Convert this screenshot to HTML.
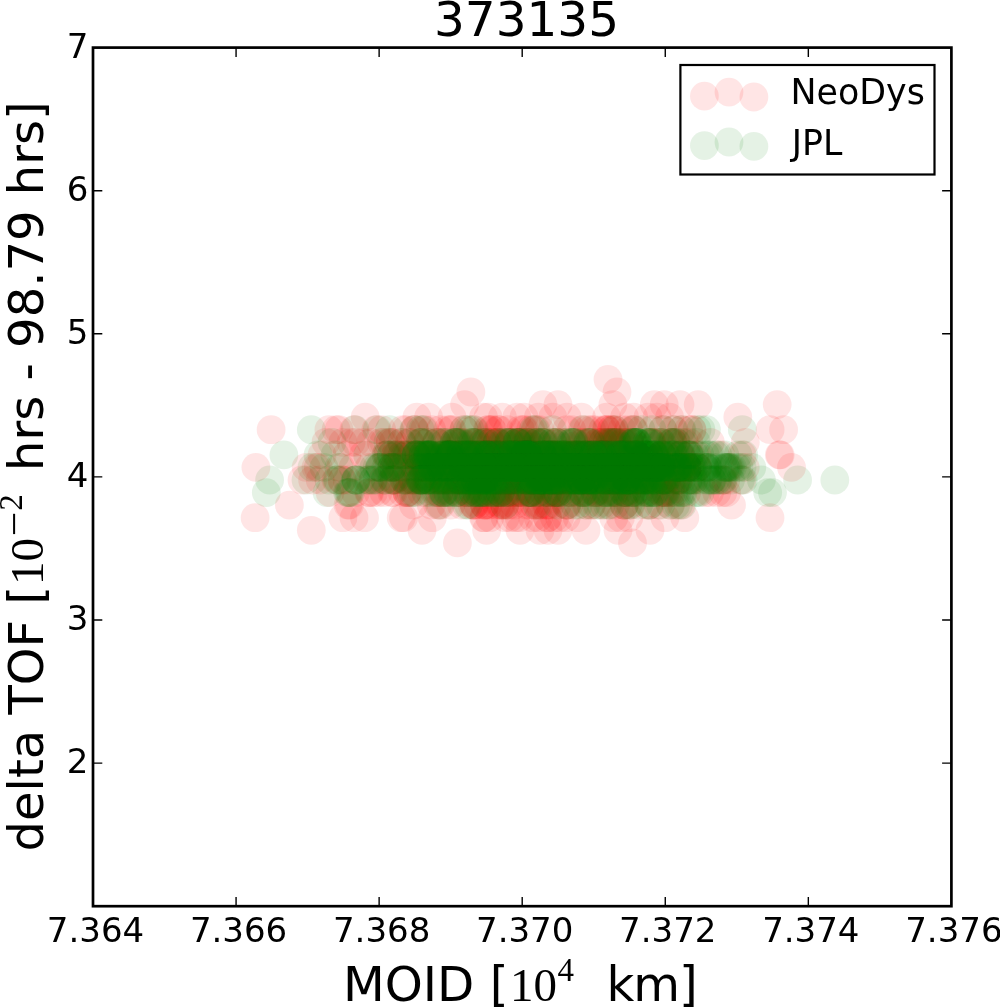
<!DOCTYPE html>
<html lang="en">
<head>
<meta charset="utf-8">
<title>373135</title>
<style>
html,body{margin:0;padding:0;background:#fff;}
body{width:1000px;height:1007px;overflow:hidden;}
svg{display:block;}
text{font-family:'DejaVu Sans','Liberation Sans',sans-serif;fill:#000;}
.m{font-family:'Liberation Serif','DejaVu Serif',serif;}
</style>
</head>
<body>
<svg width="1000" height="1007" viewBox="0 0 1000 1007">
<rect x="0" y="0" width="1000" height="1007" fill="#ffffff"/>
<defs><clipPath id="ax"><rect x="93.0" y="47.6" width="858.4" height="858.6"/></clipPath></defs>
<g clip-path="url(#ax)">
<g fill="#ff0000" fill-opacity="0.1">
<circle cx="414.4" cy="429.7" r="14.4"/>
<circle cx="674.0" cy="429.7" r="14.4"/>
<circle cx="662.6" cy="429.7" r="14.4"/>
<circle cx="607.1" cy="429.7" r="14.4"/>
<circle cx="591.5" cy="429.7" r="14.4"/>
<circle cx="613.9" cy="429.7" r="14.4"/>
<circle cx="499.3" cy="429.7" r="14.4"/>
<circle cx="622.0" cy="429.7" r="14.4"/>
<circle cx="507.5" cy="429.7" r="14.4"/>
<circle cx="414.7" cy="429.7" r="14.4"/>
<circle cx="611.2" cy="429.7" r="14.4"/>
<circle cx="452.0" cy="429.7" r="14.4"/>
<circle cx="587.5" cy="429.7" r="14.4"/>
<circle cx="594.7" cy="429.7" r="14.4"/>
<circle cx="336.1" cy="429.7" r="14.4"/>
<circle cx="523.1" cy="429.7" r="14.4"/>
<circle cx="530.7" cy="429.7" r="14.4"/>
<circle cx="524.5" cy="429.7" r="14.4"/>
<circle cx="536.1" cy="429.7" r="14.4"/>
<circle cx="406.1" cy="429.7" r="14.4"/>
<circle cx="539.6" cy="429.7" r="14.4"/>
<circle cx="473.1" cy="429.7" r="14.4"/>
<circle cx="488.5" cy="429.7" r="14.4"/>
<circle cx="606.0" cy="429.7" r="14.4"/>
<circle cx="431.7" cy="429.7" r="14.4"/>
<circle cx="451.0" cy="429.7" r="14.4"/>
<circle cx="447.9" cy="429.7" r="14.4"/>
<circle cx="688.6" cy="429.7" r="14.4"/>
<circle cx="632.9" cy="429.7" r="14.4"/>
<circle cx="498.0" cy="429.7" r="14.4"/>
<circle cx="628.6" cy="429.7" r="14.4"/>
<circle cx="440.3" cy="429.7" r="14.4"/>
<circle cx="582.1" cy="429.7" r="14.4"/>
<circle cx="520.4" cy="429.7" r="14.4"/>
<circle cx="375.9" cy="429.7" r="14.4"/>
<circle cx="424.5" cy="429.7" r="14.4"/>
<circle cx="381.7" cy="429.7" r="14.4"/>
<circle cx="487.4" cy="429.7" r="14.4"/>
<circle cx="463.9" cy="429.7" r="14.4"/>
<circle cx="691.8" cy="429.7" r="14.4"/>
<circle cx="692.1" cy="429.7" r="14.4"/>
<circle cx="681.1" cy="429.7" r="14.4"/>
<circle cx="402.5" cy="429.7" r="14.4"/>
<circle cx="566.6" cy="429.7" r="14.4"/>
<circle cx="571.6" cy="429.7" r="14.4"/>
<circle cx="602.7" cy="429.7" r="14.4"/>
<circle cx="491.5" cy="429.7" r="14.4"/>
<circle cx="492.0" cy="429.7" r="14.4"/>
<circle cx="606.7" cy="429.7" r="14.4"/>
<circle cx="634.2" cy="429.7" r="14.4"/>
<circle cx="353.9" cy="429.7" r="14.4"/>
<circle cx="611.9" cy="429.7" r="14.4"/>
<circle cx="669.3" cy="442.3" r="14.4"/>
<circle cx="483.3" cy="442.3" r="14.4"/>
<circle cx="381.3" cy="442.3" r="14.4"/>
<circle cx="402.1" cy="442.3" r="14.4"/>
<circle cx="623.7" cy="442.3" r="14.4"/>
<circle cx="629.2" cy="442.3" r="14.4"/>
<circle cx="583.8" cy="442.3" r="14.4"/>
<circle cx="614.0" cy="442.3" r="14.4"/>
<circle cx="603.0" cy="442.3" r="14.4"/>
<circle cx="625.8" cy="442.3" r="14.4"/>
<circle cx="517.6" cy="442.3" r="14.4"/>
<circle cx="651.2" cy="442.3" r="14.4"/>
<circle cx="561.0" cy="442.3" r="14.4"/>
<circle cx="598.0" cy="442.3" r="14.4"/>
<circle cx="390.4" cy="442.3" r="14.4"/>
<circle cx="383.9" cy="442.3" r="14.4"/>
<circle cx="440.5" cy="442.3" r="14.4"/>
<circle cx="523.8" cy="442.3" r="14.4"/>
<circle cx="533.0" cy="442.3" r="14.4"/>
<circle cx="497.6" cy="442.3" r="14.4"/>
<circle cx="553.1" cy="442.3" r="14.4"/>
<circle cx="745.3" cy="442.3" r="14.4"/>
<circle cx="616.7" cy="442.3" r="14.4"/>
<circle cx="513.9" cy="442.3" r="14.4"/>
<circle cx="390.4" cy="442.3" r="14.4"/>
<circle cx="629.7" cy="442.3" r="14.4"/>
<circle cx="483.8" cy="442.3" r="14.4"/>
<circle cx="607.6" cy="442.3" r="14.4"/>
<circle cx="581.9" cy="442.3" r="14.4"/>
<circle cx="575.5" cy="442.3" r="14.4"/>
<circle cx="477.6" cy="442.3" r="14.4"/>
<circle cx="436.4" cy="442.3" r="14.4"/>
<circle cx="491.0" cy="442.3" r="14.4"/>
<circle cx="527.2" cy="442.3" r="14.4"/>
<circle cx="508.8" cy="442.3" r="14.4"/>
<circle cx="656.4" cy="442.3" r="14.4"/>
<circle cx="459.1" cy="442.3" r="14.4"/>
<circle cx="606.6" cy="442.3" r="14.4"/>
<circle cx="516.6" cy="442.3" r="14.4"/>
<circle cx="633.4" cy="442.3" r="14.4"/>
<circle cx="520.6" cy="442.3" r="14.4"/>
<circle cx="651.3" cy="442.3" r="14.4"/>
<circle cx="592.1" cy="442.3" r="14.4"/>
<circle cx="493.8" cy="442.3" r="14.4"/>
<circle cx="497.1" cy="442.3" r="14.4"/>
<circle cx="520.4" cy="442.3" r="14.4"/>
<circle cx="355.5" cy="442.3" r="14.4"/>
<circle cx="508.1" cy="442.3" r="14.4"/>
<circle cx="351.1" cy="442.3" r="14.4"/>
<circle cx="609.8" cy="442.3" r="14.4"/>
<circle cx="536.2" cy="442.3" r="14.4"/>
<circle cx="623.5" cy="442.3" r="14.4"/>
<circle cx="542.9" cy="442.3" r="14.4"/>
<circle cx="612.5" cy="442.3" r="14.4"/>
<circle cx="490.7" cy="442.3" r="14.4"/>
<circle cx="675.6" cy="442.3" r="14.4"/>
<circle cx="611.7" cy="442.3" r="14.4"/>
<circle cx="363.1" cy="442.3" r="14.4"/>
<circle cx="659.2" cy="442.3" r="14.4"/>
<circle cx="601.0" cy="442.3" r="14.4"/>
<circle cx="421.7" cy="442.3" r="14.4"/>
<circle cx="542.6" cy="442.3" r="14.4"/>
<circle cx="597.8" cy="442.3" r="14.4"/>
<circle cx="565.6" cy="442.3" r="14.4"/>
<circle cx="545.9" cy="442.3" r="14.4"/>
<circle cx="616.9" cy="442.3" r="14.4"/>
<circle cx="579.8" cy="442.3" r="14.4"/>
<circle cx="672.5" cy="442.3" r="14.4"/>
<circle cx="556.1" cy="442.3" r="14.4"/>
<circle cx="490.6" cy="442.3" r="14.4"/>
<circle cx="475.9" cy="442.3" r="14.4"/>
<circle cx="461.8" cy="442.3" r="14.4"/>
<circle cx="672.9" cy="442.3" r="14.4"/>
<circle cx="618.9" cy="442.3" r="14.4"/>
<circle cx="499.0" cy="442.3" r="14.4"/>
<circle cx="437.2" cy="442.3" r="14.4"/>
<circle cx="393.3" cy="442.3" r="14.4"/>
<circle cx="456.0" cy="442.3" r="14.4"/>
<circle cx="662.1" cy="442.3" r="14.4"/>
<circle cx="469.1" cy="442.3" r="14.4"/>
<circle cx="511.0" cy="442.3" r="14.4"/>
<circle cx="536.5" cy="442.3" r="14.4"/>
<circle cx="710.3" cy="442.3" r="14.4"/>
<circle cx="651.7" cy="442.3" r="14.4"/>
<circle cx="474.1" cy="442.3" r="14.4"/>
<circle cx="557.3" cy="442.3" r="14.4"/>
<circle cx="427.3" cy="442.3" r="14.4"/>
<circle cx="409.8" cy="442.3" r="14.4"/>
<circle cx="688.9" cy="442.3" r="14.4"/>
<circle cx="409.2" cy="442.3" r="14.4"/>
<circle cx="462.9" cy="442.3" r="14.4"/>
<circle cx="684.3" cy="442.3" r="14.4"/>
<circle cx="526.5" cy="442.3" r="14.4"/>
<circle cx="370.9" cy="442.3" r="14.4"/>
<circle cx="525.7" cy="442.3" r="14.4"/>
<circle cx="587.9" cy="442.3" r="14.4"/>
<circle cx="449.3" cy="442.3" r="14.4"/>
<circle cx="418.2" cy="454.9" r="14.4"/>
<circle cx="598.9" cy="454.9" r="14.4"/>
<circle cx="584.8" cy="454.9" r="14.4"/>
<circle cx="635.3" cy="454.9" r="14.4"/>
<circle cx="504.4" cy="454.9" r="14.4"/>
<circle cx="497.6" cy="454.9" r="14.4"/>
<circle cx="621.5" cy="454.9" r="14.4"/>
<circle cx="607.8" cy="454.9" r="14.4"/>
<circle cx="407.0" cy="454.9" r="14.4"/>
<circle cx="455.6" cy="454.9" r="14.4"/>
<circle cx="463.4" cy="454.9" r="14.4"/>
<circle cx="481.1" cy="454.9" r="14.4"/>
<circle cx="472.8" cy="454.9" r="14.4"/>
<circle cx="601.8" cy="454.9" r="14.4"/>
<circle cx="556.0" cy="454.9" r="14.4"/>
<circle cx="527.3" cy="454.9" r="14.4"/>
<circle cx="601.2" cy="454.9" r="14.4"/>
<circle cx="624.1" cy="454.9" r="14.4"/>
<circle cx="720.9" cy="454.9" r="14.4"/>
<circle cx="463.5" cy="454.9" r="14.4"/>
<circle cx="697.1" cy="454.9" r="14.4"/>
<circle cx="527.8" cy="454.9" r="14.4"/>
<circle cx="551.8" cy="454.9" r="14.4"/>
<circle cx="494.4" cy="454.9" r="14.4"/>
<circle cx="494.5" cy="454.9" r="14.4"/>
<circle cx="636.8" cy="454.9" r="14.4"/>
<circle cx="528.2" cy="454.9" r="14.4"/>
<circle cx="552.3" cy="454.9" r="14.4"/>
<circle cx="475.9" cy="454.9" r="14.4"/>
<circle cx="593.4" cy="454.9" r="14.4"/>
<circle cx="600.0" cy="454.9" r="14.4"/>
<circle cx="629.7" cy="454.9" r="14.4"/>
<circle cx="515.1" cy="454.9" r="14.4"/>
<circle cx="534.1" cy="454.9" r="14.4"/>
<circle cx="529.1" cy="454.9" r="14.4"/>
<circle cx="484.3" cy="454.9" r="14.4"/>
<circle cx="474.0" cy="454.9" r="14.4"/>
<circle cx="386.4" cy="454.9" r="14.4"/>
<circle cx="575.3" cy="454.9" r="14.4"/>
<circle cx="625.0" cy="454.9" r="14.4"/>
<circle cx="500.6" cy="454.9" r="14.4"/>
<circle cx="467.0" cy="454.9" r="14.4"/>
<circle cx="395.8" cy="454.9" r="14.4"/>
<circle cx="587.1" cy="454.9" r="14.4"/>
<circle cx="679.9" cy="454.9" r="14.4"/>
<circle cx="419.5" cy="454.9" r="14.4"/>
<circle cx="559.5" cy="454.9" r="14.4"/>
<circle cx="690.6" cy="454.9" r="14.4"/>
<circle cx="471.2" cy="454.9" r="14.4"/>
<circle cx="499.1" cy="454.9" r="14.4"/>
<circle cx="498.9" cy="454.9" r="14.4"/>
<circle cx="470.4" cy="454.9" r="14.4"/>
<circle cx="550.0" cy="454.9" r="14.4"/>
<circle cx="579.6" cy="454.9" r="14.4"/>
<circle cx="487.2" cy="454.9" r="14.4"/>
<circle cx="546.4" cy="454.9" r="14.4"/>
<circle cx="586.5" cy="454.9" r="14.4"/>
<circle cx="569.3" cy="454.9" r="14.4"/>
<circle cx="574.6" cy="454.9" r="14.4"/>
<circle cx="631.6" cy="454.9" r="14.4"/>
<circle cx="610.3" cy="454.9" r="14.4"/>
<circle cx="577.8" cy="454.9" r="14.4"/>
<circle cx="492.5" cy="454.9" r="14.4"/>
<circle cx="497.9" cy="454.9" r="14.4"/>
<circle cx="531.7" cy="454.9" r="14.4"/>
<circle cx="404.5" cy="454.9" r="14.4"/>
<circle cx="401.9" cy="454.9" r="14.4"/>
<circle cx="363.5" cy="454.9" r="14.4"/>
<circle cx="576.2" cy="454.9" r="14.4"/>
<circle cx="680.3" cy="454.9" r="14.4"/>
<circle cx="636.3" cy="454.9" r="14.4"/>
<circle cx="521.1" cy="454.9" r="14.4"/>
<circle cx="443.1" cy="454.9" r="14.4"/>
<circle cx="539.5" cy="454.9" r="14.4"/>
<circle cx="618.9" cy="454.9" r="14.4"/>
<circle cx="416.9" cy="454.9" r="14.4"/>
<circle cx="388.0" cy="454.9" r="14.4"/>
<circle cx="427.6" cy="454.9" r="14.4"/>
<circle cx="458.8" cy="454.9" r="14.4"/>
<circle cx="680.6" cy="454.9" r="14.4"/>
<circle cx="631.0" cy="454.9" r="14.4"/>
<circle cx="448.0" cy="454.9" r="14.4"/>
<circle cx="439.5" cy="454.9" r="14.4"/>
<circle cx="475.7" cy="454.9" r="14.4"/>
<circle cx="584.3" cy="454.9" r="14.4"/>
<circle cx="471.5" cy="454.9" r="14.4"/>
<circle cx="411.1" cy="454.9" r="14.4"/>
<circle cx="517.4" cy="454.9" r="14.4"/>
<circle cx="429.9" cy="454.9" r="14.4"/>
<circle cx="563.9" cy="454.9" r="14.4"/>
<circle cx="510.6" cy="454.9" r="14.4"/>
<circle cx="396.4" cy="454.9" r="14.4"/>
<circle cx="502.7" cy="454.9" r="14.4"/>
<circle cx="460.6" cy="454.9" r="14.4"/>
<circle cx="590.5" cy="454.9" r="14.4"/>
<circle cx="572.5" cy="454.9" r="14.4"/>
<circle cx="620.5" cy="454.9" r="14.4"/>
<circle cx="508.5" cy="454.9" r="14.4"/>
<circle cx="451.1" cy="454.9" r="14.4"/>
<circle cx="666.3" cy="454.9" r="14.4"/>
<circle cx="579.0" cy="454.9" r="14.4"/>
<circle cx="605.1" cy="454.9" r="14.4"/>
<circle cx="523.6" cy="454.9" r="14.4"/>
<circle cx="602.5" cy="454.9" r="14.4"/>
<circle cx="527.9" cy="454.9" r="14.4"/>
<circle cx="452.3" cy="454.9" r="14.4"/>
<circle cx="601.0" cy="454.9" r="14.4"/>
<circle cx="457.1" cy="454.9" r="14.4"/>
<circle cx="491.7" cy="454.9" r="14.4"/>
<circle cx="575.0" cy="454.9" r="14.4"/>
<circle cx="563.7" cy="454.9" r="14.4"/>
<circle cx="661.4" cy="454.9" r="14.4"/>
<circle cx="742.0" cy="454.9" r="14.4"/>
<circle cx="582.3" cy="454.9" r="14.4"/>
<circle cx="448.2" cy="454.9" r="14.4"/>
<circle cx="571.4" cy="454.9" r="14.4"/>
<circle cx="600.0" cy="454.9" r="14.4"/>
<circle cx="620.0" cy="454.9" r="14.4"/>
<circle cx="536.7" cy="454.9" r="14.4"/>
<circle cx="411.9" cy="454.9" r="14.4"/>
<circle cx="346.8" cy="454.9" r="14.4"/>
<circle cx="546.6" cy="454.9" r="14.4"/>
<circle cx="551.8" cy="454.9" r="14.4"/>
<circle cx="547.9" cy="454.9" r="14.4"/>
<circle cx="534.9" cy="454.9" r="14.4"/>
<circle cx="414.3" cy="454.9" r="14.4"/>
<circle cx="467.3" cy="454.9" r="14.4"/>
<circle cx="604.4" cy="454.9" r="14.4"/>
<circle cx="515.6" cy="454.9" r="14.4"/>
<circle cx="493.8" cy="454.9" r="14.4"/>
<circle cx="490.7" cy="454.9" r="14.4"/>
<circle cx="457.3" cy="454.9" r="14.4"/>
<circle cx="422.4" cy="454.9" r="14.4"/>
<circle cx="556.4" cy="454.9" r="14.4"/>
<circle cx="448.6" cy="454.9" r="14.4"/>
<circle cx="395.6" cy="454.9" r="14.4"/>
<circle cx="446.5" cy="454.9" r="14.4"/>
<circle cx="483.9" cy="454.9" r="14.4"/>
<circle cx="557.0" cy="454.9" r="14.4"/>
<circle cx="531.5" cy="454.9" r="14.4"/>
<circle cx="457.1" cy="467.4" r="14.4"/>
<circle cx="612.4" cy="467.4" r="14.4"/>
<circle cx="508.8" cy="467.4" r="14.4"/>
<circle cx="596.0" cy="467.4" r="14.4"/>
<circle cx="572.0" cy="467.4" r="14.4"/>
<circle cx="549.9" cy="467.4" r="14.4"/>
<circle cx="687.7" cy="467.4" r="14.4"/>
<circle cx="574.3" cy="467.4" r="14.4"/>
<circle cx="523.7" cy="467.4" r="14.4"/>
<circle cx="457.0" cy="467.4" r="14.4"/>
<circle cx="491.7" cy="467.4" r="14.4"/>
<circle cx="369.2" cy="467.4" r="14.4"/>
<circle cx="458.5" cy="467.4" r="14.4"/>
<circle cx="669.2" cy="467.4" r="14.4"/>
<circle cx="594.3" cy="467.4" r="14.4"/>
<circle cx="419.1" cy="467.4" r="14.4"/>
<circle cx="473.8" cy="467.4" r="14.4"/>
<circle cx="557.1" cy="467.4" r="14.4"/>
<circle cx="542.3" cy="467.4" r="14.4"/>
<circle cx="491.4" cy="467.4" r="14.4"/>
<circle cx="544.6" cy="467.4" r="14.4"/>
<circle cx="601.1" cy="467.4" r="14.4"/>
<circle cx="458.8" cy="467.4" r="14.4"/>
<circle cx="561.6" cy="467.4" r="14.4"/>
<circle cx="629.3" cy="467.4" r="14.4"/>
<circle cx="650.2" cy="467.4" r="14.4"/>
<circle cx="598.0" cy="467.4" r="14.4"/>
<circle cx="502.5" cy="467.4" r="14.4"/>
<circle cx="526.3" cy="467.4" r="14.4"/>
<circle cx="464.0" cy="467.4" r="14.4"/>
<circle cx="570.3" cy="467.4" r="14.4"/>
<circle cx="570.6" cy="467.4" r="14.4"/>
<circle cx="494.1" cy="467.4" r="14.4"/>
<circle cx="468.7" cy="467.4" r="14.4"/>
<circle cx="457.6" cy="467.4" r="14.4"/>
<circle cx="587.0" cy="467.4" r="14.4"/>
<circle cx="668.6" cy="467.4" r="14.4"/>
<circle cx="489.7" cy="467.4" r="14.4"/>
<circle cx="690.1" cy="467.4" r="14.4"/>
<circle cx="491.1" cy="467.4" r="14.4"/>
<circle cx="524.7" cy="467.4" r="14.4"/>
<circle cx="583.3" cy="467.4" r="14.4"/>
<circle cx="488.0" cy="467.4" r="14.4"/>
<circle cx="563.1" cy="467.4" r="14.4"/>
<circle cx="449.8" cy="467.4" r="14.4"/>
<circle cx="552.9" cy="467.4" r="14.4"/>
<circle cx="654.4" cy="467.4" r="14.4"/>
<circle cx="568.8" cy="467.4" r="14.4"/>
<circle cx="680.5" cy="467.4" r="14.4"/>
<circle cx="525.7" cy="467.4" r="14.4"/>
<circle cx="577.8" cy="467.4" r="14.4"/>
<circle cx="458.5" cy="467.4" r="14.4"/>
<circle cx="482.4" cy="467.4" r="14.4"/>
<circle cx="415.1" cy="467.4" r="14.4"/>
<circle cx="521.2" cy="467.4" r="14.4"/>
<circle cx="426.3" cy="467.4" r="14.4"/>
<circle cx="659.5" cy="467.4" r="14.4"/>
<circle cx="503.2" cy="467.4" r="14.4"/>
<circle cx="469.8" cy="467.4" r="14.4"/>
<circle cx="578.3" cy="467.4" r="14.4"/>
<circle cx="490.0" cy="467.4" r="14.4"/>
<circle cx="697.0" cy="467.4" r="14.4"/>
<circle cx="399.9" cy="467.4" r="14.4"/>
<circle cx="552.2" cy="467.4" r="14.4"/>
<circle cx="681.7" cy="467.4" r="14.4"/>
<circle cx="553.2" cy="467.4" r="14.4"/>
<circle cx="551.7" cy="467.4" r="14.4"/>
<circle cx="483.1" cy="467.4" r="14.4"/>
<circle cx="530.6" cy="467.4" r="14.4"/>
<circle cx="657.8" cy="467.4" r="14.4"/>
<circle cx="745.2" cy="467.4" r="14.4"/>
<circle cx="424.4" cy="467.4" r="14.4"/>
<circle cx="499.5" cy="467.4" r="14.4"/>
<circle cx="466.9" cy="467.4" r="14.4"/>
<circle cx="394.1" cy="467.4" r="14.4"/>
<circle cx="580.3" cy="467.4" r="14.4"/>
<circle cx="421.6" cy="467.4" r="14.4"/>
<circle cx="507.9" cy="467.4" r="14.4"/>
<circle cx="510.9" cy="467.4" r="14.4"/>
<circle cx="552.8" cy="467.4" r="14.4"/>
<circle cx="643.8" cy="467.4" r="14.4"/>
<circle cx="340.5" cy="467.4" r="14.4"/>
<circle cx="509.1" cy="467.4" r="14.4"/>
<circle cx="539.6" cy="467.4" r="14.4"/>
<circle cx="575.5" cy="467.4" r="14.4"/>
<circle cx="502.6" cy="467.4" r="14.4"/>
<circle cx="561.5" cy="467.4" r="14.4"/>
<circle cx="598.0" cy="467.4" r="14.4"/>
<circle cx="504.1" cy="467.4" r="14.4"/>
<circle cx="584.4" cy="467.4" r="14.4"/>
<circle cx="452.7" cy="467.4" r="14.4"/>
<circle cx="545.4" cy="467.4" r="14.4"/>
<circle cx="353.0" cy="467.4" r="14.4"/>
<circle cx="533.7" cy="467.4" r="14.4"/>
<circle cx="387.1" cy="467.4" r="14.4"/>
<circle cx="487.5" cy="467.4" r="14.4"/>
<circle cx="606.9" cy="467.4" r="14.4"/>
<circle cx="593.4" cy="467.4" r="14.4"/>
<circle cx="681.2" cy="467.4" r="14.4"/>
<circle cx="536.4" cy="467.4" r="14.4"/>
<circle cx="497.8" cy="467.4" r="14.4"/>
<circle cx="463.0" cy="467.4" r="14.4"/>
<circle cx="562.8" cy="467.4" r="14.4"/>
<circle cx="550.4" cy="467.4" r="14.4"/>
<circle cx="524.2" cy="467.4" r="14.4"/>
<circle cx="634.6" cy="467.4" r="14.4"/>
<circle cx="531.6" cy="467.4" r="14.4"/>
<circle cx="380.7" cy="467.4" r="14.4"/>
<circle cx="541.3" cy="467.4" r="14.4"/>
<circle cx="548.4" cy="467.4" r="14.4"/>
<circle cx="318.3" cy="467.4" r="14.4"/>
<circle cx="488.7" cy="467.4" r="14.4"/>
<circle cx="434.8" cy="467.4" r="14.4"/>
<circle cx="457.2" cy="467.4" r="14.4"/>
<circle cx="541.1" cy="467.4" r="14.4"/>
<circle cx="499.9" cy="467.4" r="14.4"/>
<circle cx="548.9" cy="467.4" r="14.4"/>
<circle cx="563.7" cy="467.4" r="14.4"/>
<circle cx="466.5" cy="467.4" r="14.4"/>
<circle cx="600.1" cy="467.4" r="14.4"/>
<circle cx="499.0" cy="467.4" r="14.4"/>
<circle cx="525.3" cy="467.4" r="14.4"/>
<circle cx="655.3" cy="467.4" r="14.4"/>
<circle cx="656.3" cy="467.4" r="14.4"/>
<circle cx="498.1" cy="467.4" r="14.4"/>
<circle cx="449.1" cy="467.4" r="14.4"/>
<circle cx="683.7" cy="467.4" r="14.4"/>
<circle cx="553.6" cy="467.4" r="14.4"/>
<circle cx="492.6" cy="467.4" r="14.4"/>
<circle cx="470.2" cy="467.4" r="14.4"/>
<circle cx="645.6" cy="467.4" r="14.4"/>
<circle cx="600.0" cy="467.4" r="14.4"/>
<circle cx="559.1" cy="467.4" r="14.4"/>
<circle cx="392.3" cy="467.4" r="14.4"/>
<circle cx="422.5" cy="467.4" r="14.4"/>
<circle cx="697.8" cy="467.4" r="14.4"/>
<circle cx="525.3" cy="467.4" r="14.4"/>
<circle cx="646.0" cy="467.4" r="14.4"/>
<circle cx="454.7" cy="467.4" r="14.4"/>
<circle cx="495.0" cy="467.4" r="14.4"/>
<circle cx="518.0" cy="467.4" r="14.4"/>
<circle cx="583.0" cy="467.4" r="14.4"/>
<circle cx="606.9" cy="467.4" r="14.4"/>
<circle cx="396.1" cy="467.4" r="14.4"/>
<circle cx="728.3" cy="467.4" r="14.4"/>
<circle cx="486.4" cy="467.4" r="14.4"/>
<circle cx="306.1" cy="467.4" r="14.4"/>
<circle cx="645.9" cy="467.4" r="14.4"/>
<circle cx="431.8" cy="467.4" r="14.4"/>
<circle cx="524.9" cy="467.4" r="14.4"/>
<circle cx="698.1" cy="467.4" r="14.4"/>
<circle cx="416.7" cy="467.4" r="14.4"/>
<circle cx="575.3" cy="467.4" r="14.4"/>
<circle cx="610.7" cy="467.4" r="14.4"/>
<circle cx="640.4" cy="467.4" r="14.4"/>
<circle cx="558.9" cy="467.4" r="14.4"/>
<circle cx="617.7" cy="467.4" r="14.4"/>
<circle cx="558.0" cy="467.4" r="14.4"/>
<circle cx="588.0" cy="480.0" r="14.4"/>
<circle cx="580.3" cy="480.0" r="14.4"/>
<circle cx="496.5" cy="480.0" r="14.4"/>
<circle cx="427.6" cy="480.0" r="14.4"/>
<circle cx="473.4" cy="480.0" r="14.4"/>
<circle cx="410.5" cy="480.0" r="14.4"/>
<circle cx="507.8" cy="480.0" r="14.4"/>
<circle cx="636.4" cy="480.0" r="14.4"/>
<circle cx="409.0" cy="480.0" r="14.4"/>
<circle cx="499.3" cy="480.0" r="14.4"/>
<circle cx="461.2" cy="480.0" r="14.4"/>
<circle cx="536.2" cy="480.0" r="14.4"/>
<circle cx="540.7" cy="480.0" r="14.4"/>
<circle cx="320.2" cy="480.0" r="14.4"/>
<circle cx="342.4" cy="480.0" r="14.4"/>
<circle cx="511.5" cy="480.0" r="14.4"/>
<circle cx="542.8" cy="480.0" r="14.4"/>
<circle cx="582.7" cy="480.0" r="14.4"/>
<circle cx="444.4" cy="480.0" r="14.4"/>
<circle cx="629.9" cy="480.0" r="14.4"/>
<circle cx="559.2" cy="480.0" r="14.4"/>
<circle cx="678.1" cy="480.0" r="14.4"/>
<circle cx="464.4" cy="480.0" r="14.4"/>
<circle cx="496.3" cy="480.0" r="14.4"/>
<circle cx="741.9" cy="480.0" r="14.4"/>
<circle cx="583.4" cy="480.0" r="14.4"/>
<circle cx="500.8" cy="480.0" r="14.4"/>
<circle cx="602.3" cy="480.0" r="14.4"/>
<circle cx="486.3" cy="480.0" r="14.4"/>
<circle cx="526.5" cy="480.0" r="14.4"/>
<circle cx="554.7" cy="480.0" r="14.4"/>
<circle cx="662.1" cy="480.0" r="14.4"/>
<circle cx="535.3" cy="480.0" r="14.4"/>
<circle cx="392.6" cy="480.0" r="14.4"/>
<circle cx="449.5" cy="480.0" r="14.4"/>
<circle cx="441.5" cy="480.0" r="14.4"/>
<circle cx="426.3" cy="480.0" r="14.4"/>
<circle cx="394.0" cy="480.0" r="14.4"/>
<circle cx="554.7" cy="480.0" r="14.4"/>
<circle cx="562.7" cy="480.0" r="14.4"/>
<circle cx="678.8" cy="480.0" r="14.4"/>
<circle cx="676.0" cy="480.0" r="14.4"/>
<circle cx="497.8" cy="480.0" r="14.4"/>
<circle cx="531.7" cy="480.0" r="14.4"/>
<circle cx="442.6" cy="480.0" r="14.4"/>
<circle cx="555.9" cy="480.0" r="14.4"/>
<circle cx="498.3" cy="480.0" r="14.4"/>
<circle cx="422.5" cy="480.0" r="14.4"/>
<circle cx="341.8" cy="480.0" r="14.4"/>
<circle cx="525.7" cy="480.0" r="14.4"/>
<circle cx="575.9" cy="480.0" r="14.4"/>
<circle cx="622.7" cy="480.0" r="14.4"/>
<circle cx="418.2" cy="480.0" r="14.4"/>
<circle cx="347.2" cy="480.0" r="14.4"/>
<circle cx="560.6" cy="480.0" r="14.4"/>
<circle cx="693.5" cy="480.0" r="14.4"/>
<circle cx="582.6" cy="480.0" r="14.4"/>
<circle cx="509.6" cy="480.0" r="14.4"/>
<circle cx="508.8" cy="480.0" r="14.4"/>
<circle cx="312.6" cy="480.0" r="14.4"/>
<circle cx="512.8" cy="480.0" r="14.4"/>
<circle cx="613.1" cy="480.0" r="14.4"/>
<circle cx="438.8" cy="480.0" r="14.4"/>
<circle cx="508.8" cy="480.0" r="14.4"/>
<circle cx="487.3" cy="480.0" r="14.4"/>
<circle cx="503.3" cy="480.0" r="14.4"/>
<circle cx="559.0" cy="480.0" r="14.4"/>
<circle cx="610.2" cy="480.0" r="14.4"/>
<circle cx="664.0" cy="480.0" r="14.4"/>
<circle cx="614.3" cy="480.0" r="14.4"/>
<circle cx="491.6" cy="480.0" r="14.4"/>
<circle cx="525.4" cy="480.0" r="14.4"/>
<circle cx="413.8" cy="480.0" r="14.4"/>
<circle cx="691.4" cy="480.0" r="14.4"/>
<circle cx="421.5" cy="480.0" r="14.4"/>
<circle cx="501.8" cy="480.0" r="14.4"/>
<circle cx="636.8" cy="480.0" r="14.4"/>
<circle cx="645.8" cy="480.0" r="14.4"/>
<circle cx="549.7" cy="480.0" r="14.4"/>
<circle cx="725.8" cy="480.0" r="14.4"/>
<circle cx="508.4" cy="480.0" r="14.4"/>
<circle cx="493.4" cy="480.0" r="14.4"/>
<circle cx="609.6" cy="480.0" r="14.4"/>
<circle cx="556.4" cy="480.0" r="14.4"/>
<circle cx="510.1" cy="480.0" r="14.4"/>
<circle cx="667.0" cy="480.0" r="14.4"/>
<circle cx="628.6" cy="480.0" r="14.4"/>
<circle cx="612.5" cy="480.0" r="14.4"/>
<circle cx="529.9" cy="480.0" r="14.4"/>
<circle cx="607.5" cy="480.0" r="14.4"/>
<circle cx="585.9" cy="480.0" r="14.4"/>
<circle cx="510.1" cy="480.0" r="14.4"/>
<circle cx="615.7" cy="480.0" r="14.4"/>
<circle cx="558.0" cy="480.0" r="14.4"/>
<circle cx="619.2" cy="480.0" r="14.4"/>
<circle cx="501.3" cy="480.0" r="14.4"/>
<circle cx="476.5" cy="480.0" r="14.4"/>
<circle cx="569.2" cy="480.0" r="14.4"/>
<circle cx="548.5" cy="480.0" r="14.4"/>
<circle cx="477.3" cy="480.0" r="14.4"/>
<circle cx="456.3" cy="480.0" r="14.4"/>
<circle cx="607.6" cy="480.0" r="14.4"/>
<circle cx="468.6" cy="480.0" r="14.4"/>
<circle cx="497.6" cy="480.0" r="14.4"/>
<circle cx="606.7" cy="480.0" r="14.4"/>
<circle cx="560.3" cy="480.0" r="14.4"/>
<circle cx="467.4" cy="480.0" r="14.4"/>
<circle cx="498.1" cy="480.0" r="14.4"/>
<circle cx="489.3" cy="480.0" r="14.4"/>
<circle cx="723.1" cy="480.0" r="14.4"/>
<circle cx="449.9" cy="480.0" r="14.4"/>
<circle cx="531.6" cy="480.0" r="14.4"/>
<circle cx="513.3" cy="480.0" r="14.4"/>
<circle cx="369.9" cy="480.0" r="14.4"/>
<circle cx="605.9" cy="480.0" r="14.4"/>
<circle cx="679.1" cy="480.0" r="14.4"/>
<circle cx="580.5" cy="480.0" r="14.4"/>
<circle cx="484.0" cy="480.0" r="14.4"/>
<circle cx="618.0" cy="480.0" r="14.4"/>
<circle cx="641.9" cy="480.0" r="14.4"/>
<circle cx="544.6" cy="480.0" r="14.4"/>
<circle cx="622.1" cy="480.0" r="14.4"/>
<circle cx="616.4" cy="480.0" r="14.4"/>
<circle cx="461.4" cy="480.0" r="14.4"/>
<circle cx="665.2" cy="480.0" r="14.4"/>
<circle cx="655.3" cy="480.0" r="14.4"/>
<circle cx="458.5" cy="480.0" r="14.4"/>
<circle cx="630.8" cy="480.0" r="14.4"/>
<circle cx="382.9" cy="480.0" r="14.4"/>
<circle cx="639.1" cy="480.0" r="14.4"/>
<circle cx="404.4" cy="480.0" r="14.4"/>
<circle cx="493.0" cy="480.0" r="14.4"/>
<circle cx="631.7" cy="480.0" r="14.4"/>
<circle cx="412.7" cy="480.0" r="14.4"/>
<circle cx="461.4" cy="480.0" r="14.4"/>
<circle cx="504.9" cy="480.0" r="14.4"/>
<circle cx="535.9" cy="480.0" r="14.4"/>
<circle cx="394.3" cy="480.0" r="14.4"/>
<circle cx="671.9" cy="480.0" r="14.4"/>
<circle cx="440.3" cy="480.0" r="14.4"/>
<circle cx="355.5" cy="492.6" r="14.4"/>
<circle cx="504.4" cy="492.6" r="14.4"/>
<circle cx="565.1" cy="492.6" r="14.4"/>
<circle cx="535.9" cy="492.6" r="14.4"/>
<circle cx="601.7" cy="492.6" r="14.4"/>
<circle cx="634.7" cy="492.6" r="14.4"/>
<circle cx="393.3" cy="492.6" r="14.4"/>
<circle cx="722.8" cy="492.6" r="14.4"/>
<circle cx="528.1" cy="492.6" r="14.4"/>
<circle cx="522.0" cy="492.6" r="14.4"/>
<circle cx="545.9" cy="492.6" r="14.4"/>
<circle cx="574.8" cy="492.6" r="14.4"/>
<circle cx="373.5" cy="492.6" r="14.4"/>
<circle cx="579.8" cy="492.6" r="14.4"/>
<circle cx="407.0" cy="492.6" r="14.4"/>
<circle cx="436.6" cy="492.6" r="14.4"/>
<circle cx="582.3" cy="492.6" r="14.4"/>
<circle cx="511.3" cy="492.6" r="14.4"/>
<circle cx="555.7" cy="492.6" r="14.4"/>
<circle cx="595.9" cy="492.6" r="14.4"/>
<circle cx="498.7" cy="492.6" r="14.4"/>
<circle cx="468.2" cy="492.6" r="14.4"/>
<circle cx="439.2" cy="492.6" r="14.4"/>
<circle cx="521.6" cy="492.6" r="14.4"/>
<circle cx="410.8" cy="492.6" r="14.4"/>
<circle cx="614.1" cy="492.6" r="14.4"/>
<circle cx="421.7" cy="492.6" r="14.4"/>
<circle cx="457.1" cy="492.6" r="14.4"/>
<circle cx="506.2" cy="492.6" r="14.4"/>
<circle cx="716.7" cy="492.6" r="14.4"/>
<circle cx="597.0" cy="492.6" r="14.4"/>
<circle cx="622.8" cy="492.6" r="14.4"/>
<circle cx="530.1" cy="492.6" r="14.4"/>
<circle cx="618.1" cy="492.6" r="14.4"/>
<circle cx="638.2" cy="492.6" r="14.4"/>
<circle cx="593.7" cy="492.6" r="14.4"/>
<circle cx="460.0" cy="492.6" r="14.4"/>
<circle cx="509.6" cy="492.6" r="14.4"/>
<circle cx="550.6" cy="492.6" r="14.4"/>
<circle cx="407.0" cy="492.6" r="14.4"/>
<circle cx="670.4" cy="492.6" r="14.4"/>
<circle cx="611.5" cy="492.6" r="14.4"/>
<circle cx="705.5" cy="492.6" r="14.4"/>
<circle cx="378.0" cy="492.6" r="14.4"/>
<circle cx="554.3" cy="492.6" r="14.4"/>
<circle cx="686.7" cy="492.6" r="14.4"/>
<circle cx="649.4" cy="492.6" r="14.4"/>
<circle cx="726.6" cy="492.6" r="14.4"/>
<circle cx="466.1" cy="492.6" r="14.4"/>
<circle cx="570.7" cy="492.6" r="14.4"/>
<circle cx="530.0" cy="492.6" r="14.4"/>
<circle cx="660.1" cy="492.6" r="14.4"/>
<circle cx="496.3" cy="492.6" r="14.4"/>
<circle cx="475.6" cy="492.6" r="14.4"/>
<circle cx="646.5" cy="492.6" r="14.4"/>
<circle cx="668.6" cy="492.6" r="14.4"/>
<circle cx="665.9" cy="492.6" r="14.4"/>
<circle cx="625.0" cy="492.6" r="14.4"/>
<circle cx="604.8" cy="492.6" r="14.4"/>
<circle cx="497.7" cy="492.6" r="14.4"/>
<circle cx="461.5" cy="492.6" r="14.4"/>
<circle cx="402.2" cy="492.6" r="14.4"/>
<circle cx="586.7" cy="492.6" r="14.4"/>
<circle cx="557.5" cy="492.6" r="14.4"/>
<circle cx="483.3" cy="492.6" r="14.4"/>
<circle cx="599.6" cy="492.6" r="14.4"/>
<circle cx="407.0" cy="492.6" r="14.4"/>
<circle cx="664.0" cy="492.6" r="14.4"/>
<circle cx="441.9" cy="492.6" r="14.4"/>
<circle cx="671.4" cy="492.6" r="14.4"/>
<circle cx="391.8" cy="492.6" r="14.4"/>
<circle cx="518.4" cy="492.6" r="14.4"/>
<circle cx="570.6" cy="492.6" r="14.4"/>
<circle cx="709.6" cy="492.6" r="14.4"/>
<circle cx="661.3" cy="492.6" r="14.4"/>
<circle cx="468.1" cy="492.6" r="14.4"/>
<circle cx="518.5" cy="492.6" r="14.4"/>
<circle cx="517.6" cy="492.6" r="14.4"/>
<circle cx="630.8" cy="492.6" r="14.4"/>
<circle cx="627.5" cy="492.6" r="14.4"/>
<circle cx="368.8" cy="492.6" r="14.4"/>
<circle cx="439.1" cy="492.6" r="14.4"/>
<circle cx="546.9" cy="492.6" r="14.4"/>
<circle cx="530.5" cy="492.6" r="14.4"/>
<circle cx="369.7" cy="492.6" r="14.4"/>
<circle cx="662.9" cy="492.6" r="14.4"/>
<circle cx="587.5" cy="492.6" r="14.4"/>
<circle cx="446.2" cy="492.6" r="14.4"/>
<circle cx="383.9" cy="492.6" r="14.4"/>
<circle cx="512.6" cy="492.6" r="14.4"/>
<circle cx="615.5" cy="492.6" r="14.4"/>
<circle cx="550.4" cy="492.6" r="14.4"/>
<circle cx="626.9" cy="492.6" r="14.4"/>
<circle cx="560.8" cy="492.6" r="14.4"/>
<circle cx="555.3" cy="492.6" r="14.4"/>
<circle cx="500.4" cy="492.6" r="14.4"/>
<circle cx="675.3" cy="492.6" r="14.4"/>
<circle cx="568.6" cy="505.1" r="14.4"/>
<circle cx="680.7" cy="505.1" r="14.4"/>
<circle cx="526.5" cy="505.1" r="14.4"/>
<circle cx="586.9" cy="505.1" r="14.4"/>
<circle cx="546.8" cy="505.1" r="14.4"/>
<circle cx="658.3" cy="505.1" r="14.4"/>
<circle cx="450.8" cy="505.1" r="14.4"/>
<circle cx="539.1" cy="505.1" r="14.4"/>
<circle cx="484.6" cy="505.1" r="14.4"/>
<circle cx="487.6" cy="505.1" r="14.4"/>
<circle cx="413.5" cy="505.1" r="14.4"/>
<circle cx="349.5" cy="505.1" r="14.4"/>
<circle cx="474.5" cy="505.1" r="14.4"/>
<circle cx="596.2" cy="505.1" r="14.4"/>
<circle cx="550.0" cy="505.1" r="14.4"/>
<circle cx="540.8" cy="505.1" r="14.4"/>
<circle cx="496.6" cy="505.1" r="14.4"/>
<circle cx="478.0" cy="505.1" r="14.4"/>
<circle cx="431.3" cy="505.1" r="14.4"/>
<circle cx="591.5" cy="505.1" r="14.4"/>
<circle cx="731.5" cy="505.1" r="14.4"/>
<circle cx="499.8" cy="505.1" r="14.4"/>
<circle cx="545.4" cy="505.1" r="14.4"/>
<circle cx="504.7" cy="505.1" r="14.4"/>
<circle cx="472.3" cy="505.1" r="14.4"/>
<circle cx="500.8" cy="505.1" r="14.4"/>
<circle cx="645.7" cy="505.1" r="14.4"/>
<circle cx="440.7" cy="505.1" r="14.4"/>
<circle cx="514.7" cy="505.1" r="14.4"/>
<circle cx="461.5" cy="505.1" r="14.4"/>
<circle cx="631.0" cy="505.1" r="14.4"/>
<circle cx="670.5" cy="505.1" r="14.4"/>
<circle cx="624.2" cy="505.1" r="14.4"/>
<circle cx="624.1" cy="505.1" r="14.4"/>
<circle cx="534.9" cy="505.1" r="14.4"/>
<circle cx="474.0" cy="505.1" r="14.4"/>
<circle cx="484.7" cy="505.1" r="14.4"/>
<circle cx="509.3" cy="505.1" r="14.4"/>
<circle cx="566.5" cy="505.1" r="14.4"/>
<circle cx="437.7" cy="505.1" r="14.4"/>
<circle cx="489.7" cy="505.1" r="14.4"/>
<circle cx="604.0" cy="505.1" r="14.4"/>
<circle cx="484.5" cy="505.1" r="14.4"/>
<circle cx="650.2" cy="505.1" r="14.4"/>
<circle cx="529.7" cy="505.1" r="14.4"/>
<circle cx="547.6" cy="505.1" r="14.4"/>
<circle cx="507.4" cy="505.1" r="14.4"/>
<circle cx="615.3" cy="505.1" r="14.4"/>
<circle cx="566.2" cy="505.1" r="14.4"/>
<circle cx="501.7" cy="505.1" r="14.4"/>
<circle cx="534.2" cy="505.1" r="14.4"/>
<circle cx="474.0" cy="505.1" r="14.4"/>
<circle cx="620.4" cy="517.7" r="14.4"/>
<circle cx="342.9" cy="517.7" r="14.4"/>
<circle cx="432.3" cy="517.7" r="14.4"/>
<circle cx="403.6" cy="517.7" r="14.4"/>
<circle cx="401.2" cy="517.7" r="14.4"/>
<circle cx="566.1" cy="517.7" r="14.4"/>
<circle cx="489.7" cy="517.7" r="14.4"/>
<circle cx="559.6" cy="517.7" r="14.4"/>
<circle cx="684.8" cy="517.7" r="14.4"/>
<circle cx="510.0" cy="517.7" r="14.4"/>
<circle cx="547.4" cy="517.7" r="14.4"/>
<circle cx="577.3" cy="517.7" r="14.4"/>
<circle cx="554.5" cy="517.7" r="14.4"/>
<circle cx="532.7" cy="517.7" r="14.4"/>
<circle cx="665.0" cy="517.7" r="14.4"/>
<circle cx="628.8" cy="517.7" r="14.4"/>
<circle cx="519.3" cy="517.7" r="14.4"/>
<circle cx="483.6" cy="517.7" r="14.4"/>
<circle cx="538.3" cy="517.7" r="14.4"/>
<circle cx="547.6" cy="517.7" r="14.4"/>
<circle cx="515.6" cy="517.7" r="14.4"/>
<circle cx="484.3" cy="517.7" r="14.4"/>
<circle cx="505.3" cy="517.7" r="14.4"/>
<circle cx="613.8" cy="517.7" r="14.4"/>
<circle cx="328.9" cy="429.7" r="14.4"/>
<circle cx="339.0" cy="429.7" r="14.4"/>
<circle cx="354.0" cy="517.7" r="14.4"/>
<circle cx="364.5" cy="517.7" r="14.4"/>
<circle cx="316.0" cy="467.4" r="14.4"/>
<circle cx="322.0" cy="454.9" r="14.4"/>
<circle cx="330.0" cy="492.6" r="14.4"/>
<circle cx="336.0" cy="480.0" r="14.4"/>
<circle cx="343.0" cy="442.3" r="14.4"/>
<circle cx="348.0" cy="505.1" r="14.4"/>
<circle cx="326.0" cy="442.3" r="14.4"/>
<circle cx="271.1" cy="429.7" r="14.4"/>
<circle cx="255.9" cy="467.4" r="14.4"/>
<circle cx="255.1" cy="517.7" r="14.4"/>
<circle cx="289.4" cy="505.1" r="14.4"/>
<circle cx="311.3" cy="530.3" r="14.4"/>
<circle cx="302.0" cy="480.0" r="14.4"/>
<circle cx="777.2" cy="404.6" r="14.4"/>
<circle cx="770.1" cy="429.7" r="14.4"/>
<circle cx="783.6" cy="429.7" r="14.4"/>
<circle cx="779.3" cy="454.9" r="14.4"/>
<circle cx="780.2" cy="454.9" r="14.4"/>
<circle cx="791.5" cy="467.4" r="14.4"/>
<circle cx="770.0" cy="517.7" r="14.4"/>
<circle cx="608.0" cy="379.4" r="14.4"/>
<circle cx="470.9" cy="392.0" r="14.4"/>
<circle cx="617.0" cy="392.0" r="14.4"/>
<circle cx="464.6" cy="404.6" r="14.4"/>
<circle cx="543.0" cy="404.6" r="14.4"/>
<circle cx="558.0" cy="404.6" r="14.4"/>
<circle cx="612.9" cy="404.6" r="14.4"/>
<circle cx="654.3" cy="404.6" r="14.4"/>
<circle cx="664.2" cy="404.6" r="14.4"/>
<circle cx="680.0" cy="404.6" r="14.4"/>
<circle cx="698.2" cy="404.6" r="14.4"/>
<circle cx="365.2" cy="417.1" r="14.4"/>
<circle cx="416.9" cy="417.1" r="14.4"/>
<circle cx="428.6" cy="417.1" r="14.4"/>
<circle cx="452.0" cy="417.1" r="14.4"/>
<circle cx="483.5" cy="417.1" r="14.4"/>
<circle cx="488.0" cy="417.1" r="14.4"/>
<circle cx="502.4" cy="417.1" r="14.4"/>
<circle cx="516.8" cy="417.1" r="14.4"/>
<circle cx="524.0" cy="417.1" r="14.4"/>
<circle cx="538.4" cy="417.1" r="14.4"/>
<circle cx="552.8" cy="417.1" r="14.4"/>
<circle cx="567.0" cy="417.1" r="14.4"/>
<circle cx="581.4" cy="417.1" r="14.4"/>
<circle cx="606.6" cy="417.1" r="14.4"/>
<circle cx="624.6" cy="417.1" r="14.4"/>
<circle cx="633.6" cy="417.1" r="14.4"/>
<circle cx="648.0" cy="417.1" r="14.4"/>
<circle cx="657.0" cy="417.1" r="14.4"/>
<circle cx="669.6" cy="417.1" r="14.4"/>
<circle cx="737.8" cy="417.1" r="14.4"/>
<circle cx="457.4" cy="542.9" r="14.4"/>
<circle cx="632.5" cy="542.9" r="14.4"/>
<circle cx="422.0" cy="530.3" r="14.4"/>
<circle cx="486.6" cy="530.3" r="14.4"/>
<circle cx="520.0" cy="530.3" r="14.4"/>
<circle cx="540.0" cy="530.3" r="14.4"/>
<circle cx="548.0" cy="530.3" r="14.4"/>
<circle cx="558.0" cy="530.3" r="14.4"/>
<circle cx="586.0" cy="530.3" r="14.4"/>
<circle cx="618.0" cy="530.3" r="14.4"/>
<circle cx="650.0" cy="530.3" r="14.4"/>
</g>
<g fill="#008000" fill-opacity="0.1">
<circle cx="541.4" cy="442.3" r="14.4"/>
<circle cx="473.2" cy="442.3" r="14.4"/>
<circle cx="497.0" cy="442.3" r="14.4"/>
<circle cx="589.9" cy="442.3" r="14.4"/>
<circle cx="634.0" cy="442.3" r="14.4"/>
<circle cx="571.7" cy="442.3" r="14.4"/>
<circle cx="428.1" cy="442.3" r="14.4"/>
<circle cx="420.0" cy="442.3" r="14.4"/>
<circle cx="485.6" cy="442.3" r="14.4"/>
<circle cx="441.8" cy="442.3" r="14.4"/>
<circle cx="445.6" cy="442.3" r="14.4"/>
<circle cx="475.6" cy="442.3" r="14.4"/>
<circle cx="454.3" cy="442.3" r="14.4"/>
<circle cx="460.3" cy="442.3" r="14.4"/>
<circle cx="556.4" cy="442.3" r="14.4"/>
<circle cx="638.1" cy="442.3" r="14.4"/>
<circle cx="681.8" cy="442.3" r="14.4"/>
<circle cx="573.5" cy="442.3" r="14.4"/>
<circle cx="516.7" cy="442.3" r="14.4"/>
<circle cx="660.4" cy="442.3" r="14.4"/>
<circle cx="401.5" cy="442.3" r="14.4"/>
<circle cx="508.7" cy="442.3" r="14.4"/>
<circle cx="633.0" cy="442.3" r="14.4"/>
<circle cx="661.2" cy="442.3" r="14.4"/>
<circle cx="636.7" cy="442.3" r="14.4"/>
<circle cx="611.7" cy="442.3" r="14.4"/>
<circle cx="503.7" cy="442.3" r="14.4"/>
<circle cx="544.2" cy="442.3" r="14.4"/>
<circle cx="621.9" cy="442.3" r="14.4"/>
<circle cx="519.4" cy="442.3" r="14.4"/>
<circle cx="637.0" cy="442.3" r="14.4"/>
<circle cx="531.0" cy="442.3" r="14.4"/>
<circle cx="388.0" cy="442.3" r="14.4"/>
<circle cx="614.0" cy="442.3" r="14.4"/>
<circle cx="649.2" cy="442.3" r="14.4"/>
<circle cx="616.7" cy="442.3" r="14.4"/>
<circle cx="570.7" cy="442.3" r="14.4"/>
<circle cx="610.0" cy="442.3" r="14.4"/>
<circle cx="471.4" cy="442.3" r="14.4"/>
<circle cx="511.0" cy="442.3" r="14.4"/>
<circle cx="574.6" cy="442.3" r="14.4"/>
<circle cx="497.4" cy="442.3" r="14.4"/>
<circle cx="655.5" cy="442.3" r="14.4"/>
<circle cx="676.4" cy="442.3" r="14.4"/>
<circle cx="632.4" cy="442.3" r="14.4"/>
<circle cx="517.7" cy="442.3" r="14.4"/>
<circle cx="502.3" cy="442.3" r="14.4"/>
<circle cx="648.6" cy="442.3" r="14.4"/>
<circle cx="517.4" cy="442.3" r="14.4"/>
<circle cx="670.2" cy="442.3" r="14.4"/>
<circle cx="650.1" cy="442.3" r="14.4"/>
<circle cx="675.6" cy="442.3" r="14.4"/>
<circle cx="633.4" cy="442.3" r="14.4"/>
<circle cx="528.2" cy="442.3" r="14.4"/>
<circle cx="636.7" cy="442.3" r="14.4"/>
<circle cx="635.2" cy="442.3" r="14.4"/>
<circle cx="615.6" cy="442.3" r="14.4"/>
<circle cx="436.9" cy="442.3" r="14.4"/>
<circle cx="647.2" cy="442.3" r="14.4"/>
<circle cx="556.4" cy="442.3" r="14.4"/>
<circle cx="454.3" cy="442.3" r="14.4"/>
<circle cx="486.1" cy="442.3" r="14.4"/>
<circle cx="607.4" cy="442.3" r="14.4"/>
<circle cx="456.3" cy="442.3" r="14.4"/>
<circle cx="671.4" cy="442.3" r="14.4"/>
<circle cx="647.2" cy="442.3" r="14.4"/>
<circle cx="509.3" cy="442.3" r="14.4"/>
<circle cx="552.2" cy="442.3" r="14.4"/>
<circle cx="573.6" cy="442.3" r="14.4"/>
<circle cx="510.0" cy="442.3" r="14.4"/>
<circle cx="528.2" cy="442.3" r="14.4"/>
<circle cx="505.5" cy="442.3" r="14.4"/>
<circle cx="696.3" cy="442.3" r="14.4"/>
<circle cx="588.5" cy="442.3" r="14.4"/>
<circle cx="482.5" cy="442.3" r="14.4"/>
<circle cx="637.1" cy="442.3" r="14.4"/>
<circle cx="562.7" cy="442.3" r="14.4"/>
<circle cx="636.0" cy="442.3" r="14.4"/>
<circle cx="672.6" cy="442.3" r="14.4"/>
<circle cx="538.2" cy="442.3" r="14.4"/>
<circle cx="603.2" cy="442.3" r="14.4"/>
<circle cx="543.3" cy="442.3" r="14.4"/>
<circle cx="590.8" cy="442.3" r="14.4"/>
<circle cx="456.4" cy="442.3" r="14.4"/>
<circle cx="587.6" cy="442.3" r="14.4"/>
<circle cx="472.9" cy="442.3" r="14.4"/>
<circle cx="571.7" cy="442.3" r="14.4"/>
<circle cx="521.4" cy="442.3" r="14.4"/>
<circle cx="536.7" cy="442.3" r="14.4"/>
<circle cx="422.0" cy="442.3" r="14.4"/>
<circle cx="420.8" cy="442.3" r="14.4"/>
<circle cx="552.3" cy="442.3" r="14.4"/>
<circle cx="454.9" cy="442.3" r="14.4"/>
<circle cx="537.4" cy="442.3" r="14.4"/>
<circle cx="566.5" cy="442.3" r="14.4"/>
<circle cx="457.6" cy="442.3" r="14.4"/>
<circle cx="444.5" cy="442.3" r="14.4"/>
<circle cx="517.5" cy="442.3" r="14.4"/>
<circle cx="441.9" cy="454.9" r="14.4"/>
<circle cx="743.7" cy="454.9" r="14.4"/>
<circle cx="459.9" cy="454.9" r="14.4"/>
<circle cx="478.2" cy="454.9" r="14.4"/>
<circle cx="487.6" cy="454.9" r="14.4"/>
<circle cx="429.5" cy="454.9" r="14.4"/>
<circle cx="644.8" cy="454.9" r="14.4"/>
<circle cx="688.6" cy="454.9" r="14.4"/>
<circle cx="416.0" cy="454.9" r="14.4"/>
<circle cx="562.1" cy="454.9" r="14.4"/>
<circle cx="486.5" cy="454.9" r="14.4"/>
<circle cx="640.1" cy="454.9" r="14.4"/>
<circle cx="469.4" cy="454.9" r="14.4"/>
<circle cx="459.0" cy="454.9" r="14.4"/>
<circle cx="422.8" cy="454.9" r="14.4"/>
<circle cx="584.3" cy="454.9" r="14.4"/>
<circle cx="528.0" cy="454.9" r="14.4"/>
<circle cx="463.5" cy="454.9" r="14.4"/>
<circle cx="428.3" cy="454.9" r="14.4"/>
<circle cx="622.3" cy="454.9" r="14.4"/>
<circle cx="391.7" cy="454.9" r="14.4"/>
<circle cx="450.3" cy="454.9" r="14.4"/>
<circle cx="565.3" cy="454.9" r="14.4"/>
<circle cx="512.7" cy="454.9" r="14.4"/>
<circle cx="686.6" cy="454.9" r="14.4"/>
<circle cx="645.9" cy="454.9" r="14.4"/>
<circle cx="617.3" cy="454.9" r="14.4"/>
<circle cx="621.5" cy="454.9" r="14.4"/>
<circle cx="605.0" cy="454.9" r="14.4"/>
<circle cx="644.9" cy="454.9" r="14.4"/>
<circle cx="650.9" cy="454.9" r="14.4"/>
<circle cx="590.9" cy="454.9" r="14.4"/>
<circle cx="486.2" cy="454.9" r="14.4"/>
<circle cx="578.9" cy="454.9" r="14.4"/>
<circle cx="681.0" cy="454.9" r="14.4"/>
<circle cx="481.7" cy="454.9" r="14.4"/>
<circle cx="443.5" cy="454.9" r="14.4"/>
<circle cx="448.8" cy="454.9" r="14.4"/>
<circle cx="619.4" cy="454.9" r="14.4"/>
<circle cx="694.7" cy="454.9" r="14.4"/>
<circle cx="546.1" cy="454.9" r="14.4"/>
<circle cx="472.5" cy="454.9" r="14.4"/>
<circle cx="546.4" cy="454.9" r="14.4"/>
<circle cx="500.5" cy="454.9" r="14.4"/>
<circle cx="632.6" cy="454.9" r="14.4"/>
<circle cx="551.7" cy="454.9" r="14.4"/>
<circle cx="552.0" cy="454.9" r="14.4"/>
<circle cx="633.5" cy="454.9" r="14.4"/>
<circle cx="486.5" cy="454.9" r="14.4"/>
<circle cx="423.1" cy="454.9" r="14.4"/>
<circle cx="448.1" cy="454.9" r="14.4"/>
<circle cx="449.0" cy="454.9" r="14.4"/>
<circle cx="580.1" cy="454.9" r="14.4"/>
<circle cx="650.4" cy="454.9" r="14.4"/>
<circle cx="514.2" cy="454.9" r="14.4"/>
<circle cx="527.6" cy="454.9" r="14.4"/>
<circle cx="415.9" cy="454.9" r="14.4"/>
<circle cx="459.9" cy="454.9" r="14.4"/>
<circle cx="673.2" cy="454.9" r="14.4"/>
<circle cx="578.3" cy="454.9" r="14.4"/>
<circle cx="669.9" cy="454.9" r="14.4"/>
<circle cx="593.4" cy="454.9" r="14.4"/>
<circle cx="531.5" cy="454.9" r="14.4"/>
<circle cx="543.1" cy="454.9" r="14.4"/>
<circle cx="407.4" cy="454.9" r="14.4"/>
<circle cx="521.5" cy="454.9" r="14.4"/>
<circle cx="528.6" cy="454.9" r="14.4"/>
<circle cx="593.0" cy="454.9" r="14.4"/>
<circle cx="551.0" cy="454.9" r="14.4"/>
<circle cx="471.9" cy="454.9" r="14.4"/>
<circle cx="555.4" cy="454.9" r="14.4"/>
<circle cx="649.0" cy="454.9" r="14.4"/>
<circle cx="495.6" cy="454.9" r="14.4"/>
<circle cx="502.8" cy="454.9" r="14.4"/>
<circle cx="515.9" cy="454.9" r="14.4"/>
<circle cx="619.1" cy="454.9" r="14.4"/>
<circle cx="465.6" cy="454.9" r="14.4"/>
<circle cx="537.3" cy="454.9" r="14.4"/>
<circle cx="606.7" cy="454.9" r="14.4"/>
<circle cx="486.6" cy="454.9" r="14.4"/>
<circle cx="542.6" cy="454.9" r="14.4"/>
<circle cx="710.1" cy="454.9" r="14.4"/>
<circle cx="640.9" cy="454.9" r="14.4"/>
<circle cx="479.1" cy="454.9" r="14.4"/>
<circle cx="543.5" cy="454.9" r="14.4"/>
<circle cx="635.7" cy="454.9" r="14.4"/>
<circle cx="480.2" cy="454.9" r="14.4"/>
<circle cx="715.3" cy="454.9" r="14.4"/>
<circle cx="444.5" cy="454.9" r="14.4"/>
<circle cx="588.4" cy="454.9" r="14.4"/>
<circle cx="570.0" cy="454.9" r="14.4"/>
<circle cx="519.8" cy="454.9" r="14.4"/>
<circle cx="512.9" cy="454.9" r="14.4"/>
<circle cx="430.5" cy="454.9" r="14.4"/>
<circle cx="654.8" cy="454.9" r="14.4"/>
<circle cx="533.0" cy="454.9" r="14.4"/>
<circle cx="655.6" cy="454.9" r="14.4"/>
<circle cx="612.7" cy="454.9" r="14.4"/>
<circle cx="525.5" cy="454.9" r="14.4"/>
<circle cx="689.1" cy="454.9" r="14.4"/>
<circle cx="428.0" cy="454.9" r="14.4"/>
<circle cx="643.4" cy="454.9" r="14.4"/>
<circle cx="604.2" cy="454.9" r="14.4"/>
<circle cx="607.4" cy="454.9" r="14.4"/>
<circle cx="565.7" cy="454.9" r="14.4"/>
<circle cx="416.4" cy="454.9" r="14.4"/>
<circle cx="681.5" cy="454.9" r="14.4"/>
<circle cx="405.7" cy="454.9" r="14.4"/>
<circle cx="549.0" cy="454.9" r="14.4"/>
<circle cx="450.4" cy="454.9" r="14.4"/>
<circle cx="512.0" cy="454.9" r="14.4"/>
<circle cx="449.2" cy="454.9" r="14.4"/>
<circle cx="430.4" cy="454.9" r="14.4"/>
<circle cx="575.4" cy="454.9" r="14.4"/>
<circle cx="649.1" cy="454.9" r="14.4"/>
<circle cx="661.6" cy="454.9" r="14.4"/>
<circle cx="547.8" cy="454.9" r="14.4"/>
<circle cx="610.2" cy="454.9" r="14.4"/>
<circle cx="553.8" cy="454.9" r="14.4"/>
<circle cx="619.4" cy="454.9" r="14.4"/>
<circle cx="426.9" cy="454.9" r="14.4"/>
<circle cx="593.8" cy="454.9" r="14.4"/>
<circle cx="654.3" cy="454.9" r="14.4"/>
<circle cx="485.0" cy="454.9" r="14.4"/>
<circle cx="391.3" cy="454.9" r="14.4"/>
<circle cx="486.8" cy="454.9" r="14.4"/>
<circle cx="656.0" cy="454.9" r="14.4"/>
<circle cx="489.9" cy="454.9" r="14.4"/>
<circle cx="690.1" cy="454.9" r="14.4"/>
<circle cx="439.2" cy="454.9" r="14.4"/>
<circle cx="464.6" cy="454.9" r="14.4"/>
<circle cx="431.4" cy="454.9" r="14.4"/>
<circle cx="540.8" cy="454.9" r="14.4"/>
<circle cx="598.7" cy="454.9" r="14.4"/>
<circle cx="419.0" cy="454.9" r="14.4"/>
<circle cx="595.6" cy="454.9" r="14.4"/>
<circle cx="475.5" cy="454.9" r="14.4"/>
<circle cx="468.8" cy="454.9" r="14.4"/>
<circle cx="524.7" cy="454.9" r="14.4"/>
<circle cx="585.5" cy="454.9" r="14.4"/>
<circle cx="457.8" cy="454.9" r="14.4"/>
<circle cx="427.7" cy="454.9" r="14.4"/>
<circle cx="602.9" cy="454.9" r="14.4"/>
<circle cx="565.2" cy="454.9" r="14.4"/>
<circle cx="461.3" cy="454.9" r="14.4"/>
<circle cx="586.2" cy="454.9" r="14.4"/>
<circle cx="508.2" cy="454.9" r="14.4"/>
<circle cx="428.1" cy="454.9" r="14.4"/>
<circle cx="653.7" cy="454.9" r="14.4"/>
<circle cx="524.9" cy="454.9" r="14.4"/>
<circle cx="621.7" cy="454.9" r="14.4"/>
<circle cx="676.0" cy="454.9" r="14.4"/>
<circle cx="402.5" cy="454.9" r="14.4"/>
<circle cx="738.0" cy="454.9" r="14.4"/>
<circle cx="625.6" cy="454.9" r="14.4"/>
<circle cx="556.4" cy="454.9" r="14.4"/>
<circle cx="490.9" cy="454.9" r="14.4"/>
<circle cx="387.5" cy="454.9" r="14.4"/>
<circle cx="686.9" cy="454.9" r="14.4"/>
<circle cx="488.4" cy="454.9" r="14.4"/>
<circle cx="573.3" cy="454.9" r="14.4"/>
<circle cx="509.2" cy="454.9" r="14.4"/>
<circle cx="528.2" cy="454.9" r="14.4"/>
<circle cx="699.8" cy="454.9" r="14.4"/>
<circle cx="523.8" cy="454.9" r="14.4"/>
<circle cx="555.3" cy="454.9" r="14.4"/>
<circle cx="508.3" cy="454.9" r="14.4"/>
<circle cx="717.7" cy="454.9" r="14.4"/>
<circle cx="468.0" cy="454.9" r="14.4"/>
<circle cx="478.4" cy="454.9" r="14.4"/>
<circle cx="443.9" cy="454.9" r="14.4"/>
<circle cx="673.5" cy="454.9" r="14.4"/>
<circle cx="562.4" cy="454.9" r="14.4"/>
<circle cx="654.0" cy="454.9" r="14.4"/>
<circle cx="724.8" cy="454.9" r="14.4"/>
<circle cx="634.8" cy="454.9" r="14.4"/>
<circle cx="416.2" cy="454.9" r="14.4"/>
<circle cx="386.0" cy="454.9" r="14.4"/>
<circle cx="435.1" cy="454.9" r="14.4"/>
<circle cx="586.9" cy="454.9" r="14.4"/>
<circle cx="425.7" cy="454.9" r="14.4"/>
<circle cx="535.7" cy="454.9" r="14.4"/>
<circle cx="633.5" cy="454.9" r="14.4"/>
<circle cx="601.7" cy="454.9" r="14.4"/>
<circle cx="573.0" cy="454.9" r="14.4"/>
<circle cx="454.8" cy="454.9" r="14.4"/>
<circle cx="493.8" cy="454.9" r="14.4"/>
<circle cx="526.9" cy="454.9" r="14.4"/>
<circle cx="520.5" cy="454.9" r="14.4"/>
<circle cx="527.7" cy="454.9" r="14.4"/>
<circle cx="627.7" cy="454.9" r="14.4"/>
<circle cx="674.8" cy="454.9" r="14.4"/>
<circle cx="598.8" cy="454.9" r="14.4"/>
<circle cx="708.5" cy="454.9" r="14.4"/>
<circle cx="450.5" cy="454.9" r="14.4"/>
<circle cx="563.3" cy="454.9" r="14.4"/>
<circle cx="471.2" cy="454.9" r="14.4"/>
<circle cx="496.5" cy="454.9" r="14.4"/>
<circle cx="599.0" cy="454.9" r="14.4"/>
<circle cx="425.3" cy="454.9" r="14.4"/>
<circle cx="447.6" cy="454.9" r="14.4"/>
<circle cx="545.0" cy="454.9" r="14.4"/>
<circle cx="671.4" cy="454.9" r="14.4"/>
<circle cx="558.3" cy="454.9" r="14.4"/>
<circle cx="661.8" cy="454.9" r="14.4"/>
<circle cx="689.1" cy="454.9" r="14.4"/>
<circle cx="577.3" cy="454.9" r="14.4"/>
<circle cx="558.8" cy="454.9" r="14.4"/>
<circle cx="608.7" cy="454.9" r="14.4"/>
<circle cx="644.9" cy="454.9" r="14.4"/>
<circle cx="542.1" cy="454.9" r="14.4"/>
<circle cx="451.9" cy="454.9" r="14.4"/>
<circle cx="468.4" cy="454.9" r="14.4"/>
<circle cx="614.4" cy="454.9" r="14.4"/>
<circle cx="416.5" cy="454.9" r="14.4"/>
<circle cx="638.1" cy="454.9" r="14.4"/>
<circle cx="575.0" cy="454.9" r="14.4"/>
<circle cx="446.5" cy="454.9" r="14.4"/>
<circle cx="451.1" cy="454.9" r="14.4"/>
<circle cx="541.6" cy="454.9" r="14.4"/>
<circle cx="367.7" cy="454.9" r="14.4"/>
<circle cx="593.2" cy="454.9" r="14.4"/>
<circle cx="623.6" cy="454.9" r="14.4"/>
<circle cx="498.7" cy="454.9" r="14.4"/>
<circle cx="588.5" cy="454.9" r="14.4"/>
<circle cx="440.0" cy="454.9" r="14.4"/>
<circle cx="524.9" cy="454.9" r="14.4"/>
<circle cx="429.3" cy="454.9" r="14.4"/>
<circle cx="582.4" cy="454.9" r="14.4"/>
<circle cx="512.2" cy="454.9" r="14.4"/>
<circle cx="507.1" cy="454.9" r="14.4"/>
<circle cx="643.1" cy="454.9" r="14.4"/>
<circle cx="423.6" cy="454.9" r="14.4"/>
<circle cx="549.6" cy="454.9" r="14.4"/>
<circle cx="613.9" cy="454.9" r="14.4"/>
<circle cx="523.9" cy="454.9" r="14.4"/>
<circle cx="465.5" cy="454.9" r="14.4"/>
<circle cx="620.3" cy="454.9" r="14.4"/>
<circle cx="506.9" cy="454.9" r="14.4"/>
<circle cx="527.2" cy="454.9" r="14.4"/>
<circle cx="594.1" cy="454.9" r="14.4"/>
<circle cx="629.7" cy="454.9" r="14.4"/>
<circle cx="661.5" cy="454.9" r="14.4"/>
<circle cx="517.6" cy="454.9" r="14.4"/>
<circle cx="636.9" cy="454.9" r="14.4"/>
<circle cx="568.5" cy="454.9" r="14.4"/>
<circle cx="481.0" cy="454.9" r="14.4"/>
<circle cx="705.2" cy="454.9" r="14.4"/>
<circle cx="561.1" cy="454.9" r="14.4"/>
<circle cx="526.5" cy="454.9" r="14.4"/>
<circle cx="523.2" cy="454.9" r="14.4"/>
<circle cx="601.9" cy="454.9" r="14.4"/>
<circle cx="648.5" cy="454.9" r="14.4"/>
<circle cx="625.8" cy="454.9" r="14.4"/>
<circle cx="664.8" cy="454.9" r="14.4"/>
<circle cx="529.7" cy="454.9" r="14.4"/>
<circle cx="665.4" cy="454.9" r="14.4"/>
<circle cx="397.5" cy="454.9" r="14.4"/>
<circle cx="477.1" cy="454.9" r="14.4"/>
<circle cx="497.4" cy="454.9" r="14.4"/>
<circle cx="392.2" cy="467.4" r="14.4"/>
<circle cx="652.7" cy="467.4" r="14.4"/>
<circle cx="550.0" cy="467.4" r="14.4"/>
<circle cx="442.5" cy="467.4" r="14.4"/>
<circle cx="551.1" cy="467.4" r="14.4"/>
<circle cx="575.2" cy="467.4" r="14.4"/>
<circle cx="525.9" cy="467.4" r="14.4"/>
<circle cx="593.3" cy="467.4" r="14.4"/>
<circle cx="463.5" cy="467.4" r="14.4"/>
<circle cx="545.4" cy="467.4" r="14.4"/>
<circle cx="431.8" cy="467.4" r="14.4"/>
<circle cx="691.3" cy="467.4" r="14.4"/>
<circle cx="379.7" cy="467.4" r="14.4"/>
<circle cx="730.6" cy="467.4" r="14.4"/>
<circle cx="514.6" cy="467.4" r="14.4"/>
<circle cx="464.9" cy="467.4" r="14.4"/>
<circle cx="632.2" cy="467.4" r="14.4"/>
<circle cx="504.5" cy="467.4" r="14.4"/>
<circle cx="453.0" cy="467.4" r="14.4"/>
<circle cx="524.4" cy="467.4" r="14.4"/>
<circle cx="516.6" cy="467.4" r="14.4"/>
<circle cx="725.4" cy="467.4" r="14.4"/>
<circle cx="477.3" cy="467.4" r="14.4"/>
<circle cx="519.4" cy="467.4" r="14.4"/>
<circle cx="465.9" cy="467.4" r="14.4"/>
<circle cx="487.0" cy="467.4" r="14.4"/>
<circle cx="442.7" cy="467.4" r="14.4"/>
<circle cx="728.0" cy="467.4" r="14.4"/>
<circle cx="685.0" cy="467.4" r="14.4"/>
<circle cx="614.6" cy="467.4" r="14.4"/>
<circle cx="514.1" cy="467.4" r="14.4"/>
<circle cx="338.8" cy="467.4" r="14.4"/>
<circle cx="679.7" cy="467.4" r="14.4"/>
<circle cx="423.0" cy="467.4" r="14.4"/>
<circle cx="535.7" cy="467.4" r="14.4"/>
<circle cx="638.5" cy="467.4" r="14.4"/>
<circle cx="391.8" cy="467.4" r="14.4"/>
<circle cx="589.2" cy="467.4" r="14.4"/>
<circle cx="707.2" cy="467.4" r="14.4"/>
<circle cx="402.4" cy="467.4" r="14.4"/>
<circle cx="641.2" cy="467.4" r="14.4"/>
<circle cx="736.5" cy="467.4" r="14.4"/>
<circle cx="479.2" cy="467.4" r="14.4"/>
<circle cx="391.5" cy="467.4" r="14.4"/>
<circle cx="655.9" cy="467.4" r="14.4"/>
<circle cx="496.2" cy="467.4" r="14.4"/>
<circle cx="497.7" cy="467.4" r="14.4"/>
<circle cx="691.5" cy="467.4" r="14.4"/>
<circle cx="530.7" cy="467.4" r="14.4"/>
<circle cx="634.2" cy="467.4" r="14.4"/>
<circle cx="677.3" cy="467.4" r="14.4"/>
<circle cx="457.3" cy="467.4" r="14.4"/>
<circle cx="520.5" cy="467.4" r="14.4"/>
<circle cx="670.7" cy="467.4" r="14.4"/>
<circle cx="562.2" cy="467.4" r="14.4"/>
<circle cx="689.7" cy="467.4" r="14.4"/>
<circle cx="712.3" cy="467.4" r="14.4"/>
<circle cx="477.7" cy="467.4" r="14.4"/>
<circle cx="388.8" cy="467.4" r="14.4"/>
<circle cx="614.6" cy="467.4" r="14.4"/>
<circle cx="545.9" cy="467.4" r="14.4"/>
<circle cx="672.2" cy="467.4" r="14.4"/>
<circle cx="463.8" cy="467.4" r="14.4"/>
<circle cx="726.8" cy="467.4" r="14.4"/>
<circle cx="527.3" cy="467.4" r="14.4"/>
<circle cx="655.2" cy="467.4" r="14.4"/>
<circle cx="650.0" cy="467.4" r="14.4"/>
<circle cx="567.3" cy="467.4" r="14.4"/>
<circle cx="725.4" cy="467.4" r="14.4"/>
<circle cx="723.8" cy="467.4" r="14.4"/>
<circle cx="461.9" cy="467.4" r="14.4"/>
<circle cx="666.2" cy="467.4" r="14.4"/>
<circle cx="697.4" cy="467.4" r="14.4"/>
<circle cx="600.4" cy="467.4" r="14.4"/>
<circle cx="549.7" cy="467.4" r="14.4"/>
<circle cx="432.4" cy="467.4" r="14.4"/>
<circle cx="517.8" cy="467.4" r="14.4"/>
<circle cx="572.2" cy="467.4" r="14.4"/>
<circle cx="646.1" cy="467.4" r="14.4"/>
<circle cx="630.3" cy="467.4" r="14.4"/>
<circle cx="751.8" cy="467.4" r="14.4"/>
<circle cx="470.8" cy="467.4" r="14.4"/>
<circle cx="562.9" cy="467.4" r="14.4"/>
<circle cx="490.0" cy="467.4" r="14.4"/>
<circle cx="497.7" cy="467.4" r="14.4"/>
<circle cx="516.7" cy="467.4" r="14.4"/>
<circle cx="534.8" cy="467.4" r="14.4"/>
<circle cx="615.6" cy="467.4" r="14.4"/>
<circle cx="661.8" cy="467.4" r="14.4"/>
<circle cx="574.4" cy="467.4" r="14.4"/>
<circle cx="656.1" cy="467.4" r="14.4"/>
<circle cx="637.5" cy="467.4" r="14.4"/>
<circle cx="492.9" cy="467.4" r="14.4"/>
<circle cx="514.8" cy="467.4" r="14.4"/>
<circle cx="532.1" cy="467.4" r="14.4"/>
<circle cx="529.0" cy="467.4" r="14.4"/>
<circle cx="493.0" cy="467.4" r="14.4"/>
<circle cx="597.5" cy="467.4" r="14.4"/>
<circle cx="512.4" cy="467.4" r="14.4"/>
<circle cx="523.3" cy="467.4" r="14.4"/>
<circle cx="646.4" cy="467.4" r="14.4"/>
<circle cx="515.0" cy="467.4" r="14.4"/>
<circle cx="742.0" cy="467.4" r="14.4"/>
<circle cx="577.7" cy="467.4" r="14.4"/>
<circle cx="552.1" cy="467.4" r="14.4"/>
<circle cx="704.8" cy="467.4" r="14.4"/>
<circle cx="530.5" cy="467.4" r="14.4"/>
<circle cx="545.4" cy="467.4" r="14.4"/>
<circle cx="491.9" cy="467.4" r="14.4"/>
<circle cx="428.8" cy="467.4" r="14.4"/>
<circle cx="556.3" cy="467.4" r="14.4"/>
<circle cx="660.2" cy="467.4" r="14.4"/>
<circle cx="660.8" cy="467.4" r="14.4"/>
<circle cx="552.8" cy="467.4" r="14.4"/>
<circle cx="538.2" cy="467.4" r="14.4"/>
<circle cx="626.4" cy="467.4" r="14.4"/>
<circle cx="474.5" cy="467.4" r="14.4"/>
<circle cx="480.2" cy="467.4" r="14.4"/>
<circle cx="419.6" cy="467.4" r="14.4"/>
<circle cx="568.8" cy="467.4" r="14.4"/>
<circle cx="522.9" cy="467.4" r="14.4"/>
<circle cx="537.1" cy="467.4" r="14.4"/>
<circle cx="574.3" cy="467.4" r="14.4"/>
<circle cx="677.4" cy="467.4" r="14.4"/>
<circle cx="544.9" cy="467.4" r="14.4"/>
<circle cx="432.0" cy="467.4" r="14.4"/>
<circle cx="603.1" cy="467.4" r="14.4"/>
<circle cx="659.4" cy="467.4" r="14.4"/>
<circle cx="738.9" cy="467.4" r="14.4"/>
<circle cx="584.0" cy="467.4" r="14.4"/>
<circle cx="447.1" cy="467.4" r="14.4"/>
<circle cx="570.2" cy="467.4" r="14.4"/>
<circle cx="717.3" cy="467.4" r="14.4"/>
<circle cx="577.1" cy="467.4" r="14.4"/>
<circle cx="606.1" cy="467.4" r="14.4"/>
<circle cx="448.4" cy="467.4" r="14.4"/>
<circle cx="514.1" cy="467.4" r="14.4"/>
<circle cx="626.1" cy="467.4" r="14.4"/>
<circle cx="559.2" cy="467.4" r="14.4"/>
<circle cx="675.8" cy="467.4" r="14.4"/>
<circle cx="419.5" cy="467.4" r="14.4"/>
<circle cx="675.8" cy="467.4" r="14.4"/>
<circle cx="561.1" cy="467.4" r="14.4"/>
<circle cx="600.0" cy="467.4" r="14.4"/>
<circle cx="521.0" cy="467.4" r="14.4"/>
<circle cx="616.4" cy="467.4" r="14.4"/>
<circle cx="622.5" cy="467.4" r="14.4"/>
<circle cx="625.3" cy="467.4" r="14.4"/>
<circle cx="645.6" cy="467.4" r="14.4"/>
<circle cx="627.2" cy="467.4" r="14.4"/>
<circle cx="604.1" cy="467.4" r="14.4"/>
<circle cx="563.3" cy="467.4" r="14.4"/>
<circle cx="582.2" cy="467.4" r="14.4"/>
<circle cx="655.7" cy="467.4" r="14.4"/>
<circle cx="629.8" cy="467.4" r="14.4"/>
<circle cx="377.1" cy="467.4" r="14.4"/>
<circle cx="574.8" cy="467.4" r="14.4"/>
<circle cx="615.9" cy="467.4" r="14.4"/>
<circle cx="490.8" cy="467.4" r="14.4"/>
<circle cx="425.3" cy="467.4" r="14.4"/>
<circle cx="571.0" cy="467.4" r="14.4"/>
<circle cx="515.5" cy="467.4" r="14.4"/>
<circle cx="572.8" cy="467.4" r="14.4"/>
<circle cx="648.8" cy="467.4" r="14.4"/>
<circle cx="549.3" cy="467.4" r="14.4"/>
<circle cx="499.5" cy="467.4" r="14.4"/>
<circle cx="545.0" cy="467.4" r="14.4"/>
<circle cx="613.2" cy="467.4" r="14.4"/>
<circle cx="503.5" cy="467.4" r="14.4"/>
<circle cx="475.9" cy="467.4" r="14.4"/>
<circle cx="696.6" cy="467.4" r="14.4"/>
<circle cx="448.9" cy="467.4" r="14.4"/>
<circle cx="523.7" cy="467.4" r="14.4"/>
<circle cx="497.8" cy="467.4" r="14.4"/>
<circle cx="476.0" cy="467.4" r="14.4"/>
<circle cx="520.9" cy="467.4" r="14.4"/>
<circle cx="618.3" cy="467.4" r="14.4"/>
<circle cx="499.5" cy="467.4" r="14.4"/>
<circle cx="466.2" cy="467.4" r="14.4"/>
<circle cx="507.8" cy="467.4" r="14.4"/>
<circle cx="445.4" cy="467.4" r="14.4"/>
<circle cx="612.9" cy="467.4" r="14.4"/>
<circle cx="547.0" cy="467.4" r="14.4"/>
<circle cx="598.1" cy="467.4" r="14.4"/>
<circle cx="510.1" cy="467.4" r="14.4"/>
<circle cx="574.0" cy="467.4" r="14.4"/>
<circle cx="477.4" cy="467.4" r="14.4"/>
<circle cx="613.1" cy="467.4" r="14.4"/>
<circle cx="506.7" cy="467.4" r="14.4"/>
<circle cx="506.0" cy="467.4" r="14.4"/>
<circle cx="653.8" cy="467.4" r="14.4"/>
<circle cx="501.7" cy="467.4" r="14.4"/>
<circle cx="566.7" cy="467.4" r="14.4"/>
<circle cx="597.3" cy="467.4" r="14.4"/>
<circle cx="482.7" cy="467.4" r="14.4"/>
<circle cx="556.9" cy="467.4" r="14.4"/>
<circle cx="577.4" cy="467.4" r="14.4"/>
<circle cx="540.2" cy="467.4" r="14.4"/>
<circle cx="613.4" cy="467.4" r="14.4"/>
<circle cx="444.8" cy="467.4" r="14.4"/>
<circle cx="626.8" cy="467.4" r="14.4"/>
<circle cx="729.4" cy="467.4" r="14.4"/>
<circle cx="482.0" cy="467.4" r="14.4"/>
<circle cx="450.6" cy="467.4" r="14.4"/>
<circle cx="732.3" cy="467.4" r="14.4"/>
<circle cx="440.5" cy="467.4" r="14.4"/>
<circle cx="513.2" cy="467.4" r="14.4"/>
<circle cx="434.2" cy="467.4" r="14.4"/>
<circle cx="534.4" cy="467.4" r="14.4"/>
<circle cx="603.7" cy="467.4" r="14.4"/>
<circle cx="619.0" cy="467.4" r="14.4"/>
<circle cx="693.6" cy="467.4" r="14.4"/>
<circle cx="373.9" cy="467.4" r="14.4"/>
<circle cx="559.4" cy="467.4" r="14.4"/>
<circle cx="526.6" cy="467.4" r="14.4"/>
<circle cx="538.5" cy="467.4" r="14.4"/>
<circle cx="406.4" cy="467.4" r="14.4"/>
<circle cx="585.3" cy="467.4" r="14.4"/>
<circle cx="490.6" cy="467.4" r="14.4"/>
<circle cx="481.7" cy="467.4" r="14.4"/>
<circle cx="557.9" cy="467.4" r="14.4"/>
<circle cx="608.6" cy="467.4" r="14.4"/>
<circle cx="613.7" cy="467.4" r="14.4"/>
<circle cx="656.2" cy="467.4" r="14.4"/>
<circle cx="469.2" cy="467.4" r="14.4"/>
<circle cx="655.8" cy="467.4" r="14.4"/>
<circle cx="546.3" cy="467.4" r="14.4"/>
<circle cx="518.1" cy="467.4" r="14.4"/>
<circle cx="599.8" cy="467.4" r="14.4"/>
<circle cx="503.5" cy="467.4" r="14.4"/>
<circle cx="513.7" cy="467.4" r="14.4"/>
<circle cx="468.0" cy="467.4" r="14.4"/>
<circle cx="657.7" cy="467.4" r="14.4"/>
<circle cx="638.9" cy="467.4" r="14.4"/>
<circle cx="613.3" cy="467.4" r="14.4"/>
<circle cx="661.9" cy="467.4" r="14.4"/>
<circle cx="583.1" cy="467.4" r="14.4"/>
<circle cx="573.7" cy="467.4" r="14.4"/>
<circle cx="558.2" cy="467.4" r="14.4"/>
<circle cx="394.0" cy="467.4" r="14.4"/>
<circle cx="595.0" cy="467.4" r="14.4"/>
<circle cx="597.8" cy="467.4" r="14.4"/>
<circle cx="662.2" cy="467.4" r="14.4"/>
<circle cx="629.6" cy="467.4" r="14.4"/>
<circle cx="521.9" cy="467.4" r="14.4"/>
<circle cx="644.0" cy="467.4" r="14.4"/>
<circle cx="670.9" cy="467.4" r="14.4"/>
<circle cx="560.9" cy="467.4" r="14.4"/>
<circle cx="464.4" cy="467.4" r="14.4"/>
<circle cx="506.3" cy="467.4" r="14.4"/>
<circle cx="647.0" cy="467.4" r="14.4"/>
<circle cx="609.0" cy="467.4" r="14.4"/>
<circle cx="629.3" cy="467.4" r="14.4"/>
<circle cx="690.8" cy="467.4" r="14.4"/>
<circle cx="465.9" cy="467.4" r="14.4"/>
<circle cx="433.5" cy="467.4" r="14.4"/>
<circle cx="664.9" cy="467.4" r="14.4"/>
<circle cx="488.6" cy="467.4" r="14.4"/>
<circle cx="527.8" cy="467.4" r="14.4"/>
<circle cx="451.7" cy="467.4" r="14.4"/>
<circle cx="708.2" cy="467.4" r="14.4"/>
<circle cx="624.5" cy="467.4" r="14.4"/>
<circle cx="681.3" cy="467.4" r="14.4"/>
<circle cx="603.9" cy="467.4" r="14.4"/>
<circle cx="484.5" cy="467.4" r="14.4"/>
<circle cx="525.5" cy="467.4" r="14.4"/>
<circle cx="548.7" cy="467.4" r="14.4"/>
<circle cx="507.4" cy="467.4" r="14.4"/>
<circle cx="380.0" cy="467.4" r="14.4"/>
<circle cx="636.9" cy="467.4" r="14.4"/>
<circle cx="542.7" cy="467.4" r="14.4"/>
<circle cx="641.3" cy="467.4" r="14.4"/>
<circle cx="542.9" cy="467.4" r="14.4"/>
<circle cx="463.6" cy="467.4" r="14.4"/>
<circle cx="544.3" cy="467.4" r="14.4"/>
<circle cx="521.6" cy="467.4" r="14.4"/>
<circle cx="611.2" cy="467.4" r="14.4"/>
<circle cx="525.1" cy="467.4" r="14.4"/>
<circle cx="482.8" cy="467.4" r="14.4"/>
<circle cx="600.9" cy="467.4" r="14.4"/>
<circle cx="468.6" cy="467.4" r="14.4"/>
<circle cx="437.1" cy="467.4" r="14.4"/>
<circle cx="470.0" cy="467.4" r="14.4"/>
<circle cx="661.7" cy="467.4" r="14.4"/>
<circle cx="704.3" cy="467.4" r="14.4"/>
<circle cx="414.5" cy="467.4" r="14.4"/>
<circle cx="454.0" cy="467.4" r="14.4"/>
<circle cx="707.5" cy="467.4" r="14.4"/>
<circle cx="618.5" cy="467.4" r="14.4"/>
<circle cx="385.8" cy="467.4" r="14.4"/>
<circle cx="620.1" cy="467.4" r="14.4"/>
<circle cx="642.2" cy="467.4" r="14.4"/>
<circle cx="440.8" cy="467.4" r="14.4"/>
<circle cx="562.4" cy="467.4" r="14.4"/>
<circle cx="426.9" cy="467.4" r="14.4"/>
<circle cx="445.5" cy="467.4" r="14.4"/>
<circle cx="686.5" cy="467.4" r="14.4"/>
<circle cx="638.8" cy="467.4" r="14.4"/>
<circle cx="621.6" cy="467.4" r="14.4"/>
<circle cx="475.3" cy="467.4" r="14.4"/>
<circle cx="678.2" cy="467.4" r="14.4"/>
<circle cx="430.1" cy="467.4" r="14.4"/>
<circle cx="575.9" cy="467.4" r="14.4"/>
<circle cx="517.0" cy="467.4" r="14.4"/>
<circle cx="679.7" cy="467.4" r="14.4"/>
<circle cx="440.4" cy="467.4" r="14.4"/>
<circle cx="513.9" cy="467.4" r="14.4"/>
<circle cx="583.2" cy="467.4" r="14.4"/>
<circle cx="379.4" cy="467.4" r="14.4"/>
<circle cx="677.6" cy="467.4" r="14.4"/>
<circle cx="516.7" cy="467.4" r="14.4"/>
<circle cx="550.1" cy="467.4" r="14.4"/>
<circle cx="692.8" cy="467.4" r="14.4"/>
<circle cx="592.9" cy="467.4" r="14.4"/>
<circle cx="589.2" cy="467.4" r="14.4"/>
<circle cx="606.8" cy="467.4" r="14.4"/>
<circle cx="687.2" cy="467.4" r="14.4"/>
<circle cx="612.0" cy="467.4" r="14.4"/>
<circle cx="547.5" cy="467.4" r="14.4"/>
<circle cx="681.9" cy="467.4" r="14.4"/>
<circle cx="566.1" cy="467.4" r="14.4"/>
<circle cx="485.0" cy="467.4" r="14.4"/>
<circle cx="534.8" cy="467.4" r="14.4"/>
<circle cx="620.8" cy="467.4" r="14.4"/>
<circle cx="459.5" cy="467.4" r="14.4"/>
<circle cx="549.6" cy="467.4" r="14.4"/>
<circle cx="627.0" cy="467.4" r="14.4"/>
<circle cx="663.0" cy="467.4" r="14.4"/>
<circle cx="507.1" cy="467.4" r="14.4"/>
<circle cx="629.9" cy="467.4" r="14.4"/>
<circle cx="604.1" cy="467.4" r="14.4"/>
<circle cx="457.1" cy="467.4" r="14.4"/>
<circle cx="608.9" cy="467.4" r="14.4"/>
<circle cx="535.2" cy="467.4" r="14.4"/>
<circle cx="397.0" cy="467.4" r="14.4"/>
<circle cx="483.7" cy="467.4" r="14.4"/>
<circle cx="606.4" cy="467.4" r="14.4"/>
<circle cx="512.3" cy="467.4" r="14.4"/>
<circle cx="688.4" cy="467.4" r="14.4"/>
<circle cx="583.4" cy="467.4" r="14.4"/>
<circle cx="492.8" cy="480.0" r="14.4"/>
<circle cx="638.0" cy="480.0" r="14.4"/>
<circle cx="605.7" cy="480.0" r="14.4"/>
<circle cx="486.0" cy="480.0" r="14.4"/>
<circle cx="465.0" cy="480.0" r="14.4"/>
<circle cx="551.1" cy="480.0" r="14.4"/>
<circle cx="650.7" cy="480.0" r="14.4"/>
<circle cx="576.3" cy="480.0" r="14.4"/>
<circle cx="483.4" cy="480.0" r="14.4"/>
<circle cx="614.5" cy="480.0" r="14.4"/>
<circle cx="453.4" cy="480.0" r="14.4"/>
<circle cx="452.4" cy="480.0" r="14.4"/>
<circle cx="428.0" cy="480.0" r="14.4"/>
<circle cx="633.1" cy="480.0" r="14.4"/>
<circle cx="470.1" cy="480.0" r="14.4"/>
<circle cx="427.3" cy="480.0" r="14.4"/>
<circle cx="474.9" cy="480.0" r="14.4"/>
<circle cx="622.4" cy="480.0" r="14.4"/>
<circle cx="533.1" cy="480.0" r="14.4"/>
<circle cx="614.5" cy="480.0" r="14.4"/>
<circle cx="574.5" cy="480.0" r="14.4"/>
<circle cx="647.0" cy="480.0" r="14.4"/>
<circle cx="434.3" cy="480.0" r="14.4"/>
<circle cx="626.5" cy="480.0" r="14.4"/>
<circle cx="523.8" cy="480.0" r="14.4"/>
<circle cx="688.3" cy="480.0" r="14.4"/>
<circle cx="473.9" cy="480.0" r="14.4"/>
<circle cx="510.3" cy="480.0" r="14.4"/>
<circle cx="617.1" cy="480.0" r="14.4"/>
<circle cx="576.0" cy="480.0" r="14.4"/>
<circle cx="611.1" cy="480.0" r="14.4"/>
<circle cx="481.8" cy="480.0" r="14.4"/>
<circle cx="588.4" cy="480.0" r="14.4"/>
<circle cx="510.8" cy="480.0" r="14.4"/>
<circle cx="468.1" cy="480.0" r="14.4"/>
<circle cx="619.9" cy="480.0" r="14.4"/>
<circle cx="730.5" cy="480.0" r="14.4"/>
<circle cx="497.9" cy="480.0" r="14.4"/>
<circle cx="468.1" cy="480.0" r="14.4"/>
<circle cx="646.3" cy="480.0" r="14.4"/>
<circle cx="621.7" cy="480.0" r="14.4"/>
<circle cx="545.5" cy="480.0" r="14.4"/>
<circle cx="532.2" cy="480.0" r="14.4"/>
<circle cx="580.9" cy="480.0" r="14.4"/>
<circle cx="677.2" cy="480.0" r="14.4"/>
<circle cx="549.6" cy="480.0" r="14.4"/>
<circle cx="405.0" cy="480.0" r="14.4"/>
<circle cx="541.1" cy="480.0" r="14.4"/>
<circle cx="528.0" cy="480.0" r="14.4"/>
<circle cx="605.3" cy="480.0" r="14.4"/>
<circle cx="593.7" cy="480.0" r="14.4"/>
<circle cx="532.6" cy="480.0" r="14.4"/>
<circle cx="604.0" cy="480.0" r="14.4"/>
<circle cx="522.2" cy="480.0" r="14.4"/>
<circle cx="428.8" cy="480.0" r="14.4"/>
<circle cx="559.9" cy="480.0" r="14.4"/>
<circle cx="621.5" cy="480.0" r="14.4"/>
<circle cx="412.6" cy="480.0" r="14.4"/>
<circle cx="723.0" cy="480.0" r="14.4"/>
<circle cx="717.1" cy="480.0" r="14.4"/>
<circle cx="656.1" cy="480.0" r="14.4"/>
<circle cx="416.2" cy="480.0" r="14.4"/>
<circle cx="455.5" cy="480.0" r="14.4"/>
<circle cx="419.9" cy="480.0" r="14.4"/>
<circle cx="475.1" cy="480.0" r="14.4"/>
<circle cx="555.3" cy="480.0" r="14.4"/>
<circle cx="628.1" cy="480.0" r="14.4"/>
<circle cx="498.8" cy="480.0" r="14.4"/>
<circle cx="740.4" cy="480.0" r="14.4"/>
<circle cx="392.6" cy="480.0" r="14.4"/>
<circle cx="600.7" cy="480.0" r="14.4"/>
<circle cx="494.8" cy="480.0" r="14.4"/>
<circle cx="608.5" cy="480.0" r="14.4"/>
<circle cx="429.3" cy="480.0" r="14.4"/>
<circle cx="603.7" cy="480.0" r="14.4"/>
<circle cx="540.4" cy="480.0" r="14.4"/>
<circle cx="761.4" cy="480.0" r="14.4"/>
<circle cx="484.8" cy="480.0" r="14.4"/>
<circle cx="488.6" cy="480.0" r="14.4"/>
<circle cx="465.5" cy="480.0" r="14.4"/>
<circle cx="627.6" cy="480.0" r="14.4"/>
<circle cx="572.3" cy="480.0" r="14.4"/>
<circle cx="482.5" cy="480.0" r="14.4"/>
<circle cx="604.9" cy="480.0" r="14.4"/>
<circle cx="459.1" cy="480.0" r="14.4"/>
<circle cx="581.0" cy="480.0" r="14.4"/>
<circle cx="517.9" cy="480.0" r="14.4"/>
<circle cx="640.5" cy="480.0" r="14.4"/>
<circle cx="691.1" cy="480.0" r="14.4"/>
<circle cx="551.6" cy="480.0" r="14.4"/>
<circle cx="368.6" cy="480.0" r="14.4"/>
<circle cx="543.7" cy="480.0" r="14.4"/>
<circle cx="437.7" cy="480.0" r="14.4"/>
<circle cx="539.2" cy="480.0" r="14.4"/>
<circle cx="538.8" cy="480.0" r="14.4"/>
<circle cx="518.0" cy="480.0" r="14.4"/>
<circle cx="458.2" cy="480.0" r="14.4"/>
<circle cx="594.3" cy="480.0" r="14.4"/>
<circle cx="635.7" cy="480.0" r="14.4"/>
<circle cx="425.6" cy="480.0" r="14.4"/>
<circle cx="585.9" cy="480.0" r="14.4"/>
<circle cx="613.7" cy="480.0" r="14.4"/>
<circle cx="627.1" cy="480.0" r="14.4"/>
<circle cx="484.6" cy="480.0" r="14.4"/>
<circle cx="556.1" cy="480.0" r="14.4"/>
<circle cx="629.6" cy="480.0" r="14.4"/>
<circle cx="587.7" cy="480.0" r="14.4"/>
<circle cx="566.7" cy="480.0" r="14.4"/>
<circle cx="665.4" cy="480.0" r="14.4"/>
<circle cx="478.3" cy="480.0" r="14.4"/>
<circle cx="503.1" cy="480.0" r="14.4"/>
<circle cx="597.6" cy="480.0" r="14.4"/>
<circle cx="474.7" cy="480.0" r="14.4"/>
<circle cx="568.3" cy="480.0" r="14.4"/>
<circle cx="629.7" cy="480.0" r="14.4"/>
<circle cx="513.3" cy="480.0" r="14.4"/>
<circle cx="459.8" cy="480.0" r="14.4"/>
<circle cx="480.9" cy="480.0" r="14.4"/>
<circle cx="385.4" cy="480.0" r="14.4"/>
<circle cx="542.8" cy="480.0" r="14.4"/>
<circle cx="550.3" cy="480.0" r="14.4"/>
<circle cx="337.0" cy="480.0" r="14.4"/>
<circle cx="628.1" cy="480.0" r="14.4"/>
<circle cx="569.9" cy="480.0" r="14.4"/>
<circle cx="643.5" cy="480.0" r="14.4"/>
<circle cx="711.3" cy="480.0" r="14.4"/>
<circle cx="715.0" cy="480.0" r="14.4"/>
<circle cx="541.3" cy="480.0" r="14.4"/>
<circle cx="551.6" cy="480.0" r="14.4"/>
<circle cx="533.0" cy="480.0" r="14.4"/>
<circle cx="420.8" cy="480.0" r="14.4"/>
<circle cx="711.7" cy="480.0" r="14.4"/>
<circle cx="581.7" cy="480.0" r="14.4"/>
<circle cx="534.2" cy="480.0" r="14.4"/>
<circle cx="649.5" cy="480.0" r="14.4"/>
<circle cx="560.7" cy="480.0" r="14.4"/>
<circle cx="475.4" cy="480.0" r="14.4"/>
<circle cx="640.1" cy="480.0" r="14.4"/>
<circle cx="564.2" cy="480.0" r="14.4"/>
<circle cx="492.5" cy="480.0" r="14.4"/>
<circle cx="384.9" cy="480.0" r="14.4"/>
<circle cx="687.9" cy="480.0" r="14.4"/>
<circle cx="355.2" cy="480.0" r="14.4"/>
<circle cx="478.5" cy="480.0" r="14.4"/>
<circle cx="712.3" cy="480.0" r="14.4"/>
<circle cx="588.6" cy="480.0" r="14.4"/>
<circle cx="629.4" cy="480.0" r="14.4"/>
<circle cx="663.9" cy="480.0" r="14.4"/>
<circle cx="645.3" cy="480.0" r="14.4"/>
<circle cx="549.5" cy="480.0" r="14.4"/>
<circle cx="527.4" cy="480.0" r="14.4"/>
<circle cx="696.7" cy="480.0" r="14.4"/>
<circle cx="447.8" cy="480.0" r="14.4"/>
<circle cx="673.0" cy="480.0" r="14.4"/>
<circle cx="373.4" cy="480.0" r="14.4"/>
<circle cx="654.5" cy="480.0" r="14.4"/>
<circle cx="542.1" cy="480.0" r="14.4"/>
<circle cx="651.7" cy="480.0" r="14.4"/>
<circle cx="671.2" cy="480.0" r="14.4"/>
<circle cx="439.3" cy="480.0" r="14.4"/>
<circle cx="483.8" cy="480.0" r="14.4"/>
<circle cx="596.2" cy="480.0" r="14.4"/>
<circle cx="594.6" cy="480.0" r="14.4"/>
<circle cx="491.5" cy="480.0" r="14.4"/>
<circle cx="580.9" cy="480.0" r="14.4"/>
<circle cx="681.1" cy="480.0" r="14.4"/>
<circle cx="590.6" cy="480.0" r="14.4"/>
<circle cx="529.2" cy="480.0" r="14.4"/>
<circle cx="547.8" cy="480.0" r="14.4"/>
<circle cx="495.7" cy="480.0" r="14.4"/>
<circle cx="366.4" cy="480.0" r="14.4"/>
<circle cx="551.9" cy="480.0" r="14.4"/>
<circle cx="620.1" cy="480.0" r="14.4"/>
<circle cx="569.5" cy="480.0" r="14.4"/>
<circle cx="488.8" cy="480.0" r="14.4"/>
<circle cx="666.1" cy="480.0" r="14.4"/>
<circle cx="539.5" cy="480.0" r="14.4"/>
<circle cx="580.4" cy="480.0" r="14.4"/>
<circle cx="395.0" cy="480.0" r="14.4"/>
<circle cx="526.0" cy="480.0" r="14.4"/>
<circle cx="580.9" cy="480.0" r="14.4"/>
<circle cx="661.8" cy="480.0" r="14.4"/>
<circle cx="539.6" cy="480.0" r="14.4"/>
<circle cx="506.2" cy="480.0" r="14.4"/>
<circle cx="625.8" cy="480.0" r="14.4"/>
<circle cx="422.1" cy="480.0" r="14.4"/>
<circle cx="588.6" cy="480.0" r="14.4"/>
<circle cx="421.4" cy="480.0" r="14.4"/>
<circle cx="488.3" cy="480.0" r="14.4"/>
<circle cx="432.1" cy="480.0" r="14.4"/>
<circle cx="625.1" cy="480.0" r="14.4"/>
<circle cx="659.6" cy="480.0" r="14.4"/>
<circle cx="626.4" cy="480.0" r="14.4"/>
<circle cx="450.0" cy="480.0" r="14.4"/>
<circle cx="420.5" cy="480.0" r="14.4"/>
<circle cx="592.7" cy="480.0" r="14.4"/>
<circle cx="559.1" cy="480.0" r="14.4"/>
<circle cx="636.0" cy="480.0" r="14.4"/>
<circle cx="557.5" cy="480.0" r="14.4"/>
<circle cx="620.2" cy="480.0" r="14.4"/>
<circle cx="446.3" cy="480.0" r="14.4"/>
<circle cx="655.6" cy="480.0" r="14.4"/>
<circle cx="460.7" cy="480.0" r="14.4"/>
<circle cx="360.7" cy="480.0" r="14.4"/>
<circle cx="707.1" cy="480.0" r="14.4"/>
<circle cx="423.2" cy="480.0" r="14.4"/>
<circle cx="471.6" cy="480.0" r="14.4"/>
<circle cx="553.3" cy="480.0" r="14.4"/>
<circle cx="533.8" cy="480.0" r="14.4"/>
<circle cx="464.4" cy="480.0" r="14.4"/>
<circle cx="514.9" cy="480.0" r="14.4"/>
<circle cx="461.3" cy="480.0" r="14.4"/>
<circle cx="356.3" cy="480.0" r="14.4"/>
<circle cx="356.0" cy="480.0" r="14.4"/>
<circle cx="648.7" cy="480.0" r="14.4"/>
<circle cx="544.0" cy="480.0" r="14.4"/>
<circle cx="547.7" cy="480.0" r="14.4"/>
<circle cx="530.5" cy="480.0" r="14.4"/>
<circle cx="718.2" cy="480.0" r="14.4"/>
<circle cx="599.2" cy="480.0" r="14.4"/>
<circle cx="471.1" cy="480.0" r="14.4"/>
<circle cx="372.9" cy="480.0" r="14.4"/>
<circle cx="406.7" cy="480.0" r="14.4"/>
<circle cx="377.1" cy="480.0" r="14.4"/>
<circle cx="391.7" cy="480.0" r="14.4"/>
<circle cx="587.2" cy="480.0" r="14.4"/>
<circle cx="509.1" cy="480.0" r="14.4"/>
<circle cx="576.4" cy="480.0" r="14.4"/>
<circle cx="576.7" cy="480.0" r="14.4"/>
<circle cx="503.3" cy="480.0" r="14.4"/>
<circle cx="611.0" cy="480.0" r="14.4"/>
<circle cx="558.5" cy="480.0" r="14.4"/>
<circle cx="571.7" cy="480.0" r="14.4"/>
<circle cx="565.5" cy="480.0" r="14.4"/>
<circle cx="432.9" cy="480.0" r="14.4"/>
<circle cx="524.9" cy="480.0" r="14.4"/>
<circle cx="355.8" cy="480.0" r="14.4"/>
<circle cx="743.2" cy="480.0" r="14.4"/>
<circle cx="581.2" cy="480.0" r="14.4"/>
<circle cx="503.4" cy="480.0" r="14.4"/>
<circle cx="573.3" cy="480.0" r="14.4"/>
<circle cx="575.9" cy="480.0" r="14.4"/>
<circle cx="586.8" cy="480.0" r="14.4"/>
<circle cx="517.4" cy="480.0" r="14.4"/>
<circle cx="592.0" cy="480.0" r="14.4"/>
<circle cx="495.7" cy="480.0" r="14.4"/>
<circle cx="707.9" cy="480.0" r="14.4"/>
<circle cx="614.0" cy="480.0" r="14.4"/>
<circle cx="586.6" cy="480.0" r="14.4"/>
<circle cx="538.3" cy="480.0" r="14.4"/>
<circle cx="701.2" cy="480.0" r="14.4"/>
<circle cx="611.5" cy="480.0" r="14.4"/>
<circle cx="444.9" cy="480.0" r="14.4"/>
<circle cx="579.2" cy="480.0" r="14.4"/>
<circle cx="689.4" cy="480.0" r="14.4"/>
<circle cx="486.0" cy="480.0" r="14.4"/>
<circle cx="591.0" cy="480.0" r="14.4"/>
<circle cx="420.0" cy="480.0" r="14.4"/>
<circle cx="443.4" cy="480.0" r="14.4"/>
<circle cx="694.0" cy="480.0" r="14.4"/>
<circle cx="721.7" cy="480.0" r="14.4"/>
<circle cx="643.3" cy="480.0" r="14.4"/>
<circle cx="513.0" cy="480.0" r="14.4"/>
<circle cx="662.9" cy="480.0" r="14.4"/>
<circle cx="593.5" cy="480.0" r="14.4"/>
<circle cx="556.0" cy="480.0" r="14.4"/>
<circle cx="645.0" cy="480.0" r="14.4"/>
<circle cx="404.0" cy="480.0" r="14.4"/>
<circle cx="662.7" cy="480.0" r="14.4"/>
<circle cx="472.5" cy="480.0" r="14.4"/>
<circle cx="634.8" cy="492.6" r="14.4"/>
<circle cx="683.1" cy="492.6" r="14.4"/>
<circle cx="557.7" cy="492.6" r="14.4"/>
<circle cx="695.3" cy="492.6" r="14.4"/>
<circle cx="435.1" cy="492.6" r="14.4"/>
<circle cx="486.7" cy="492.6" r="14.4"/>
<circle cx="631.8" cy="492.6" r="14.4"/>
<circle cx="594.8" cy="492.6" r="14.4"/>
<circle cx="473.1" cy="492.6" r="14.4"/>
<circle cx="471.4" cy="492.6" r="14.4"/>
<circle cx="491.9" cy="492.6" r="14.4"/>
<circle cx="491.1" cy="492.6" r="14.4"/>
<circle cx="482.5" cy="492.6" r="14.4"/>
<circle cx="583.8" cy="492.6" r="14.4"/>
<circle cx="473.2" cy="492.6" r="14.4"/>
<circle cx="500.5" cy="492.6" r="14.4"/>
<circle cx="582.8" cy="492.6" r="14.4"/>
<circle cx="482.1" cy="492.6" r="14.4"/>
<circle cx="609.5" cy="492.6" r="14.4"/>
<circle cx="425.9" cy="492.6" r="14.4"/>
<circle cx="413.2" cy="492.6" r="14.4"/>
<circle cx="531.5" cy="492.6" r="14.4"/>
<circle cx="476.7" cy="492.6" r="14.4"/>
<circle cx="653.4" cy="492.6" r="14.4"/>
<circle cx="515.0" cy="492.6" r="14.4"/>
<circle cx="448.2" cy="492.6" r="14.4"/>
<circle cx="570.0" cy="492.6" r="14.4"/>
<circle cx="623.5" cy="492.6" r="14.4"/>
<circle cx="437.8" cy="492.6" r="14.4"/>
<circle cx="486.7" cy="492.6" r="14.4"/>
<circle cx="547.5" cy="492.6" r="14.4"/>
<circle cx="527.3" cy="492.6" r="14.4"/>
<circle cx="561.7" cy="492.6" r="14.4"/>
<circle cx="582.2" cy="492.6" r="14.4"/>
<circle cx="414.8" cy="492.6" r="14.4"/>
<circle cx="653.8" cy="492.6" r="14.4"/>
<circle cx="589.8" cy="492.6" r="14.4"/>
<circle cx="607.3" cy="492.6" r="14.4"/>
<circle cx="504.7" cy="492.6" r="14.4"/>
<circle cx="639.6" cy="492.6" r="14.4"/>
<circle cx="450.4" cy="492.6" r="14.4"/>
<circle cx="479.8" cy="492.6" r="14.4"/>
<circle cx="614.3" cy="492.6" r="14.4"/>
<circle cx="646.4" cy="492.6" r="14.4"/>
<circle cx="543.4" cy="492.6" r="14.4"/>
<circle cx="496.9" cy="492.6" r="14.4"/>
<circle cx="456.2" cy="492.6" r="14.4"/>
<circle cx="682.1" cy="492.6" r="14.4"/>
<circle cx="606.0" cy="492.6" r="14.4"/>
<circle cx="631.7" cy="492.6" r="14.4"/>
<circle cx="456.0" cy="492.6" r="14.4"/>
<circle cx="443.1" cy="492.6" r="14.4"/>
<circle cx="700.1" cy="492.6" r="14.4"/>
<circle cx="531.8" cy="492.6" r="14.4"/>
<circle cx="492.8" cy="492.6" r="14.4"/>
<circle cx="530.9" cy="492.6" r="14.4"/>
<circle cx="443.0" cy="492.6" r="14.4"/>
<circle cx="616.8" cy="492.6" r="14.4"/>
<circle cx="476.4" cy="492.6" r="14.4"/>
<circle cx="466.1" cy="492.6" r="14.4"/>
<circle cx="605.6" cy="492.6" r="14.4"/>
<circle cx="555.3" cy="492.6" r="14.4"/>
<circle cx="477.0" cy="492.6" r="14.4"/>
<circle cx="484.8" cy="492.6" r="14.4"/>
<circle cx="538.2" cy="492.6" r="14.4"/>
<circle cx="567.9" cy="492.6" r="14.4"/>
<circle cx="430.0" cy="492.6" r="14.4"/>
<circle cx="444.0" cy="492.6" r="14.4"/>
<circle cx="507.7" cy="492.6" r="14.4"/>
<circle cx="495.0" cy="492.6" r="14.4"/>
<circle cx="521.3" cy="492.6" r="14.4"/>
<circle cx="557.9" cy="492.6" r="14.4"/>
<circle cx="595.3" cy="492.6" r="14.4"/>
<circle cx="500.0" cy="492.6" r="14.4"/>
<circle cx="624.6" cy="492.6" r="14.4"/>
<circle cx="603.8" cy="492.6" r="14.4"/>
<circle cx="447.7" cy="492.6" r="14.4"/>
<circle cx="647.1" cy="492.6" r="14.4"/>
<circle cx="680.3" cy="492.6" r="14.4"/>
<circle cx="500.3" cy="492.6" r="14.4"/>
<circle cx="557.5" cy="492.6" r="14.4"/>
<circle cx="507.0" cy="492.6" r="14.4"/>
<circle cx="554.1" cy="492.6" r="14.4"/>
<circle cx="697.5" cy="492.6" r="14.4"/>
<circle cx="451.7" cy="492.6" r="14.4"/>
<circle cx="677.0" cy="492.6" r="14.4"/>
<circle cx="408.7" cy="492.6" r="14.4"/>
<circle cx="664.7" cy="492.6" r="14.4"/>
<circle cx="648.8" cy="492.6" r="14.4"/>
<circle cx="673.7" cy="492.6" r="14.4"/>
<circle cx="530.1" cy="492.6" r="14.4"/>
<circle cx="466.5" cy="492.6" r="14.4"/>
<circle cx="654.7" cy="492.6" r="14.4"/>
<circle cx="624.1" cy="492.6" r="14.4"/>
<circle cx="611.0" cy="492.6" r="14.4"/>
<circle cx="443.9" cy="492.6" r="14.4"/>
<circle cx="665.7" cy="492.6" r="14.4"/>
<circle cx="577.2" cy="492.6" r="14.4"/>
<circle cx="457.1" cy="492.6" r="14.4"/>
<circle cx="479.3" cy="492.6" r="14.4"/>
<circle cx="643.4" cy="492.6" r="14.4"/>
<circle cx="548.1" cy="492.6" r="14.4"/>
<circle cx="651.1" cy="492.6" r="14.4"/>
<circle cx="538.0" cy="492.6" r="14.4"/>
<circle cx="583.6" cy="492.6" r="14.4"/>
<circle cx="626.7" cy="492.6" r="14.4"/>
<circle cx="655.5" cy="492.6" r="14.4"/>
<circle cx="528.9" cy="492.6" r="14.4"/>
<circle cx="481.1" cy="492.6" r="14.4"/>
<circle cx="633.5" cy="492.6" r="14.4"/>
<circle cx="597.7" cy="505.1" r="14.4"/>
<circle cx="624.2" cy="505.1" r="14.4"/>
<circle cx="536.9" cy="505.1" r="14.4"/>
<circle cx="601.1" cy="505.1" r="14.4"/>
<circle cx="607.5" cy="505.1" r="14.4"/>
<circle cx="670.1" cy="505.1" r="14.4"/>
<circle cx="574.9" cy="505.1" r="14.4"/>
<circle cx="566.8" cy="505.1" r="14.4"/>
<circle cx="466.4" cy="505.1" r="14.4"/>
<circle cx="682.1" cy="505.1" r="14.4"/>
<circle cx="648.9" cy="505.1" r="14.4"/>
<circle cx="609.8" cy="505.1" r="14.4"/>
<circle cx="578.3" cy="505.1" r="14.4"/>
<circle cx="649.1" cy="505.1" r="14.4"/>
<circle cx="675.6" cy="505.1" r="14.4"/>
<circle cx="439.5" cy="505.1" r="14.4"/>
<circle cx="627.9" cy="505.1" r="14.4"/>
<circle cx="638.5" cy="505.1" r="14.4"/>
<circle cx="591.1" cy="505.1" r="14.4"/>
<circle cx="660.7" cy="505.1" r="14.4"/>
<circle cx="557.4" cy="505.1" r="14.4"/>
<circle cx="468.5" cy="505.1" r="14.4"/>
<circle cx="630.0" cy="505.1" r="14.4"/>
<circle cx="585.7" cy="505.1" r="14.4"/>
<circle cx="678.4" cy="505.1" r="14.4"/>
<circle cx="504.7" cy="505.1" r="14.4"/>
<circle cx="706.4" cy="429.7" r="14.4"/>
<circle cx="420.2" cy="429.7" r="14.4"/>
<circle cx="467.4" cy="429.7" r="14.4"/>
<circle cx="552.3" cy="429.7" r="14.4"/>
<circle cx="614.7" cy="429.7" r="14.4"/>
<circle cx="633.4" cy="429.7" r="14.4"/>
<circle cx="377.2" cy="429.7" r="14.4"/>
<circle cx="681.9" cy="429.7" r="14.4"/>
<circle cx="413.8" cy="429.7" r="14.4"/>
<circle cx="700.9" cy="429.7" r="14.4"/>
<circle cx="423.0" cy="429.7" r="14.4"/>
<circle cx="533.4" cy="429.7" r="14.4"/>
<circle cx="474.1" cy="429.7" r="14.4"/>
<circle cx="583.2" cy="429.7" r="14.4"/>
<circle cx="318.0" cy="454.9" r="14.4"/>
<circle cx="312.0" cy="467.4" r="14.4"/>
<circle cx="324.0" cy="467.4" r="14.4"/>
<circle cx="329.0" cy="480.0" r="14.4"/>
<circle cx="327.0" cy="492.6" r="14.4"/>
<circle cx="335.0" cy="454.9" r="14.4"/>
<circle cx="338.0" cy="480.0" r="14.4"/>
<circle cx="332.0" cy="442.3" r="14.4"/>
<circle cx="355.0" cy="429.7" r="14.4"/>
<circle cx="389.5" cy="429.7" r="14.4"/>
<circle cx="464.0" cy="429.7" r="14.4"/>
<circle cx="470.0" cy="429.7" r="14.4"/>
<circle cx="535.0" cy="429.7" r="14.4"/>
<circle cx="641.0" cy="429.7" r="14.4"/>
<circle cx="652.0" cy="429.7" r="14.4"/>
<circle cx="663.0" cy="429.7" r="14.4"/>
<circle cx="673.0" cy="429.7" r="14.4"/>
<circle cx="697.0" cy="429.7" r="14.4"/>
<circle cx="742.3" cy="429.7" r="14.4"/>
<circle cx="347.5" cy="492.6" r="14.4"/>
<circle cx="348.5" cy="492.6" r="14.4"/>
<circle cx="349.5" cy="492.6" r="14.4"/>
<circle cx="350.5" cy="492.6" r="14.4"/>
<circle cx="311.3" cy="429.7" r="14.4"/>
<circle cx="283.9" cy="454.9" r="14.4"/>
<circle cx="269.6" cy="480.0" r="14.4"/>
<circle cx="266.3" cy="492.6" r="14.4"/>
<circle cx="306.0" cy="480.0" r="14.4"/>
<circle cx="797.6" cy="480.0" r="14.4"/>
<circle cx="834.8" cy="480.0" r="14.4"/>
<circle cx="772.5" cy="492.6" r="14.4"/>
<circle cx="767.7" cy="492.6" r="14.4"/>
</g>
</g>
<path d="M236.07 906.20v-9.30M236.07 47.60v9.30M379.13 906.20v-9.30M379.13 47.60v9.30M522.20 906.20v-9.30M522.20 47.60v9.30M665.27 906.20v-9.30M665.27 47.60v9.30M808.33 906.20v-9.30M808.33 47.60v9.30M93.00 190.70h9.30M951.40 190.70h-9.30M93.00 333.80h9.30M951.40 333.80h-9.30M93.00 476.90h9.30M951.40 476.90h-9.30M93.00 620.00h9.30M951.40 620.00h-9.30M93.00 763.10h9.30M951.40 763.10h-9.30" stroke="#000" stroke-width="1.4" fill="none"/>
<rect x="93.0" y="47.6" width="858.40" height="858.60" fill="none" stroke="#000" stroke-width="2.7"/>
<text x="95.50" y="941.8" font-size="34" text-anchor="middle">7.364</text>
<text x="238.57" y="941.8" font-size="34" text-anchor="middle">7.366</text>
<text x="381.63" y="941.8" font-size="34" text-anchor="middle">7.368</text>
<text x="524.70" y="941.8" font-size="34" text-anchor="middle">7.370</text>
<text x="667.77" y="941.8" font-size="34" text-anchor="middle">7.372</text>
<text x="810.83" y="941.8" font-size="34" text-anchor="middle">7.374</text>
<text x="953.90" y="941.8" font-size="34" text-anchor="middle">7.376</text>
<text x="88.4" y="57.60" font-size="34" text-anchor="end">7</text>
<text x="88.4" y="200.70" font-size="34" text-anchor="end">6</text>
<text x="88.4" y="343.80" font-size="34" text-anchor="end">5</text>
<text x="88.4" y="486.90" font-size="34" text-anchor="end">4</text>
<text x="88.4" y="630.00" font-size="34" text-anchor="end">3</text>
<text x="88.4" y="773.10" font-size="34" text-anchor="end">2</text>
<text x="526.5" y="35.7" font-size="48.5" text-anchor="middle">373135</text>
<g transform="translate(0,1000.6)" font-size="48">
<text x="342.9" y="0" font-size="48.4">MOID [</text>
<text class="m" x="510" y="0" font-size="47">10</text>
<text class="m" x="557.5" y="-19.7" font-size="33">4</text>
<text x="606.5" y="0" letter-spacing="-1">km]</text>
</g>
<g transform="translate(43,851.4) rotate(-90)" font-size="48">
<text x="0" y="0">delta TOF [</text>
<text class="m" x="266.3" y="0" font-size="47">10</text>
<text class="m" x="0" y="0" font-size="33" transform="translate(315.2,-15.1) scale(1.32,1.25)">−</text>
<text class="m" x="340.6" y="-20.8" font-size="33">2</text>
<text x="380.5" y="0">hrs - 98.79 hrs]</text>
</g>
<rect x="680.4" y="65" width="254.1" height="109.5" fill="#fff" stroke="#000" stroke-width="2.2"/>
<g fill="#ff0000" fill-opacity="0.1"><circle cx="704.4" cy="96.1" r="14.4"/><circle cx="729" cy="92.1" r="14.4"/><circle cx="753.9" cy="97" r="14.4"/></g>
<g fill="#008000" fill-opacity="0.1"><circle cx="704.4" cy="145.6" r="14.4"/><circle cx="729" cy="142" r="14.4"/><circle cx="753.9" cy="146.4" r="14.4"/></g>
<text x="790.6" y="104.2" font-size="34.8">NeoDys</text>
<text x="791.7" y="154.6" font-size="34.8">JPL</text>
</svg>
</body>
</html>
